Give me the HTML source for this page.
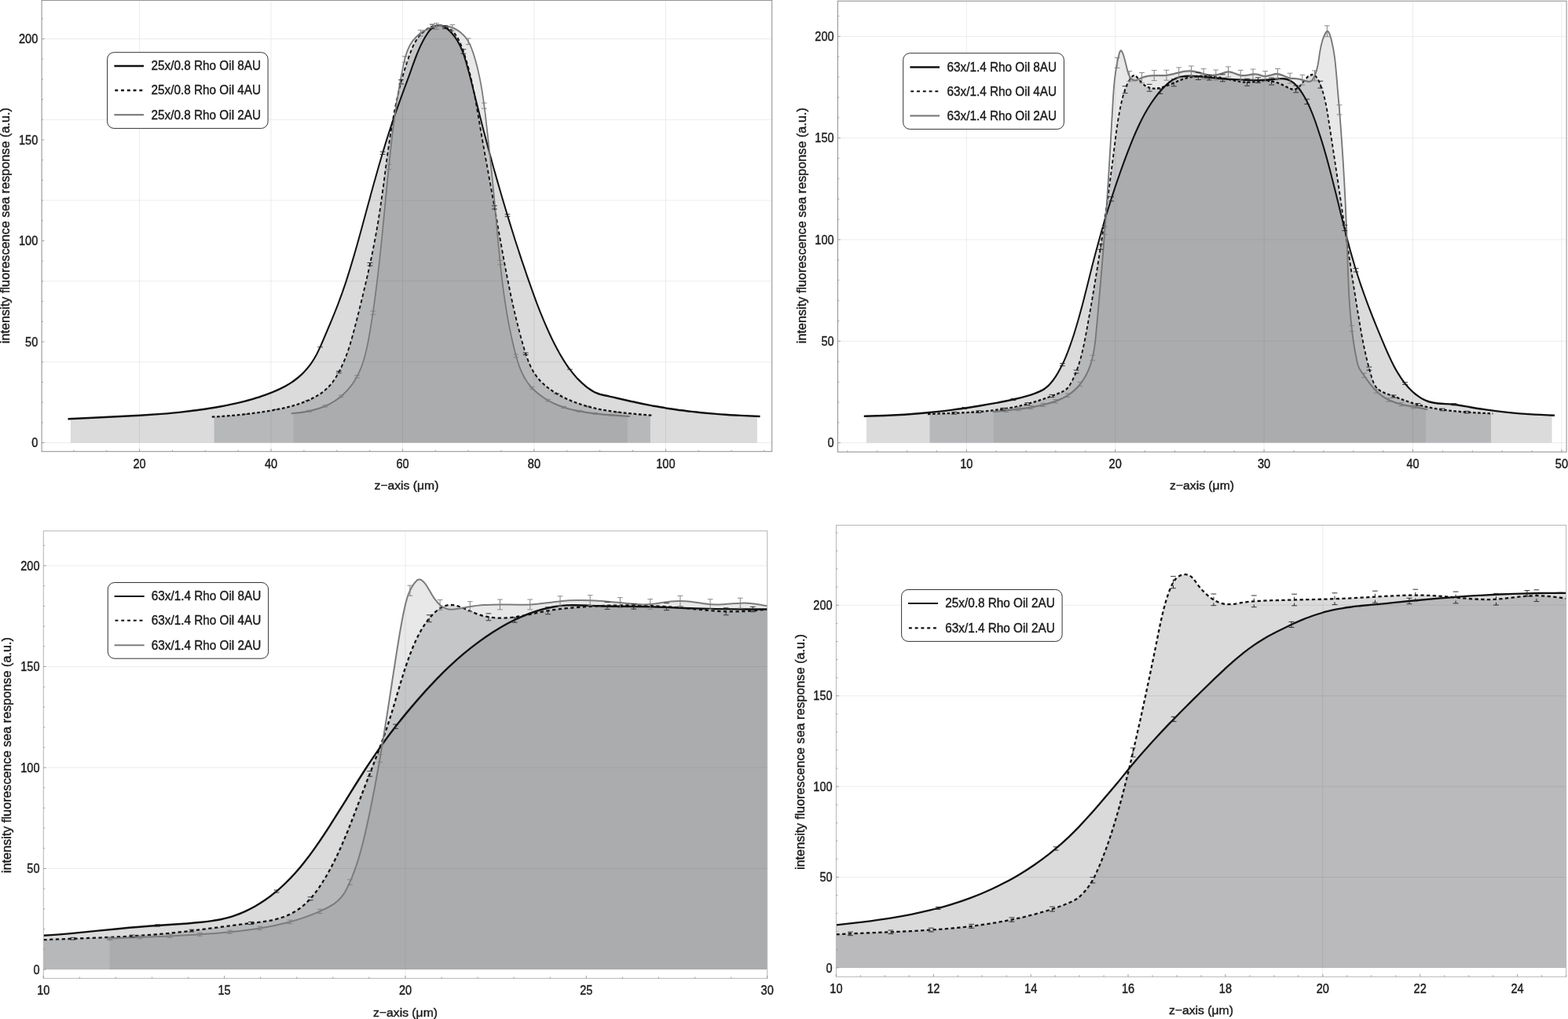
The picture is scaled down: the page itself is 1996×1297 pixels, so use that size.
<!DOCTYPE html>
<html lang="en"><head><meta charset="utf-8"><title>Fluorescence sea response</title>
<style>html,body{margin:0;padding:0;background:#fff;}body{width:1996px;height:1297px;overflow:hidden;}svg{display:block;font-family:'Liberation Sans', 'DejaVu Sans', sans-serif;}</style>
</head><body>
<svg width="1996" height="1297" viewBox="0 0 1996 1297">
<rect width="1996" height="1297" fill="#fff"/>
<g id="panel1">
<clipPath id="c1"><rect x="53.1" y="0.4" width="929.6" height="574.3"/></clipPath>
<path d="M177.6 0.4V574.7M345 0.4V574.7M512.5 0.4V574.7M679.9 0.4V574.7M847.4 0.4V574.7M53.1 563.5H982.7M53.1 460.7H982.7M53.1 357.9H982.7M53.1 255.1H982.7M53.1 152.3H982.7M53.1 49.5H982.7" stroke="#e4e4e4" stroke-width="0.7" fill="none"/>
<g clip-path="url(#c1)">
<path d="M90 563.5L90 533.1C99.4 532.6 108.7 532.1 118 531.7C138.1 530.8 158 529.9 177.8 528.8C187 528.2 196 527.6 205.1 526.9C213.4 526.2 221.7 525.5 230 524.6C238.3 523.7 246.6 522.7 255 521.5C263.4 520.4 271.8 519 280.3 517.5C288.8 515.9 297.4 514.2 305.8 512.1C313.4 510.3 320.9 508.3 328.3 505.9C334.7 503.9 340.9 501.7 347 499.2C352.4 497 357.6 494.6 362.6 491.9C365.4 490.4 368.1 488.8 370.7 487C372.8 485.6 374.8 484.2 376.8 482.6C379.1 480.8 381.4 478.9 383.5 476.9C385.9 474.7 388.2 472.3 390.3 469.8C392.7 467 394.9 464.2 397 461.2C399.3 457.8 401.4 454.2 403.3 450.6C404.9 447.4 406.4 444.2 407.9 441C409.5 437.4 411 433.8 412.6 430.1C414.2 426.3 415.8 422.5 417.4 418.7C418.4 416.4 419.4 414.1 420.3 411.9C423.7 403.8 427 395.6 430.2 387.5C433.8 377.9 437.2 368.3 440.4 358.7C443.8 348.4 447 337.9 450 327.5C453.4 315.9 456.6 304.3 459.8 292.6C462.3 283.5 464.8 274.3 467.3 265.1C468.5 260.8 469.6 256.6 470.8 252.3C473.6 242.1 476.4 231.9 479.2 221.7C481.9 212.4 484.6 203.1 487.3 193.9C489.7 185.9 492.2 177.9 494.7 170C496.9 163.3 499.1 156.6 501.4 150C503.5 143.7 505.7 137.5 508 131.3C510.5 124.2 513.1 117.1 515.7 110.1C518 103.9 520.2 97.7 522.4 91.5C524.8 84.8 527.1 78.3 529.7 71.6C532 65.8 534.5 59.8 537.5 53.9C539.5 49.9 541.8 45.8 544.3 42.2C545.9 39.9 547.6 37.8 549.5 36.1C550.9 34.9 552.4 33.9 554.1 33.3C555.7 32.7 557.3 32.4 559 32.4C561 32.4 562.9 32.9 564.8 33.8C566.5 34.6 568.1 35.6 569.7 36.9C571.6 38.4 573.4 40.2 575.1 42.1C577.8 45.2 580.1 48.4 582.1 51.7C584.5 55.6 586.5 59.6 588.1 63.8C590.2 69 591.9 74.3 593.5 79.8C594.4 83 595.3 86.1 596.2 89.4C597.7 94.8 599.1 100.3 600.5 105.8C602.1 112.2 603.6 118.6 605.2 125C606.9 131.8 608.6 138.6 610.3 145.3C612 152.1 613.7 158.8 615.5 165.5C617.1 171.8 618.8 178 620.4 184.3C622.1 190.5 623.8 196.8 625.5 203C627.1 208.8 628.7 214.7 630.3 220.5C631.9 226.3 633.6 232.1 635.2 237.9C636.9 243.6 638.5 249.3 640.2 254.9C642.3 262 644.4 269 646.5 276C648.7 283.1 650.9 290.1 653.1 297.1C655.1 303.4 657.1 309.7 659.1 315.9C661.2 322.2 663.2 328.5 665.3 334.8C667.3 340.7 669.3 346.6 671.4 352.6C673.3 358.1 675.3 363.7 677.2 369.3C679.2 374.8 681.3 380.4 683.3 385.9C685.2 390.7 687.1 395.5 689 400.3C691.1 405.5 693.2 410.6 695.4 415.6C697.8 421.1 700.3 426.5 702.9 431.8C705.3 436.8 707.8 441.7 710.5 446.5C711.1 447.7 711.8 448.9 712.5 450.2C714.1 453 715.8 455.9 717.6 458.7C719.6 461.9 721.6 465 723.8 468.1C724.3 468.7 724.8 469.3 725.3 470C727.8 473.3 730.4 476.6 733.3 479.8C734.5 481.2 735.7 482.5 737 483.8C738.8 485.6 740.6 487.4 742.5 489.1C744.4 490.8 746.4 492.4 748.4 493.8C749.1 494.4 749.9 494.9 750.6 495.4C752.2 496.5 753.8 497.5 755.5 498.4C756.3 498.8 757.2 499.3 758.1 499.7C758.7 500 759.4 500.3 760.1 500.5C761.7 501.2 763.3 501.7 764.9 502.1C765.1 502.2 765.3 502.2 765.5 502.3C768.7 503.1 771.9 503.7 775.1 504.4C776.7 504.7 778.2 505.1 779.8 505.4C782.3 506 784.9 506.6 787.6 507.2C793.3 508.5 799.2 509.9 805 511.2C805.1 511.3 805.2 511.3 805.4 511.3C813.6 513.2 821.9 514.9 830.1 516.4C830.2 516.4 830.4 516.4 830.5 516.5C836.1 517.5 841.8 518.5 847.5 519.4C847.6 519.4 847.8 519.4 848 519.5C854.6 520.5 861.2 521.5 867.8 522.3C872 522.9 876.2 523.4 880.5 523.9C884.5 524.3 888.6 524.8 892.7 525.2C901 526 909.3 526.7 917.6 527.4C921.7 527.7 925.8 527.9 929.9 528.2C934.1 528.4 938.4 528.7 942.7 528.9C949.7 529.3 956.8 529.6 963.9 529.8L963.9 563.5Z" fill="#000" fill-opacity="0.142"/>
<path d="M272.6 563.5L272.6 530.4C279.2 530.1 285.9 529.7 292.7 529.1C300.1 528.5 307.5 527.8 314.9 526.9C323.4 525.9 331.9 524.7 340.3 523.3C346.6 522.3 352.9 521.2 359.1 519.9C365.4 518.5 371.6 516.9 377.7 515C382.4 513.5 387 511.8 391.5 509.9C395.3 508.2 399.1 506.4 402.7 504.3C406.1 502.3 409.4 500.1 412.5 497.7C415.1 495.5 417.6 493.2 419.9 490.7C422.3 488 424.5 485 426.5 481.9C428.4 479 430.1 475.9 431.7 472.9C433.6 469.3 435.3 465.8 436.9 462.2C438.7 458.1 440.3 453.9 441.8 449.8C443.6 444.9 445.2 439.9 446.6 435C447.9 430.9 449 426.8 450.1 422.6C451 419.1 451.9 415.7 452.8 412.2C454.8 404.3 456.9 396.3 458.8 388.3C461.1 379.1 463.3 369.9 465.5 360.7C467.3 352.7 469.1 344.7 470.9 336.6C472.8 327.8 474.6 318.9 476.3 310C478.2 300.3 480 290.7 481.5 281C483.1 271.2 484.6 261.4 486 251.6C486.8 245.7 487.6 239.7 488.4 233.8C489.4 225.9 490.4 218 491.5 210.1C492.5 202.2 493.6 194.3 494.7 186.5C495.6 180.2 496.5 174 497.5 167.8C498.6 161.1 499.7 154.5 500.9 147.8C502 142 503.2 136.1 504.4 130.3C505.6 124.4 507 118.6 508.4 112.8C509.5 108.6 510.6 104.4 511.7 100.2C512.6 97 513.5 93.7 514.5 90.5C516.3 84.6 518.2 78.7 520.3 72.8C522 67.9 523.8 63 526 58.4C527.8 54.5 529.9 50.9 532.3 47.6C534.5 44.7 537 42 539.9 39.7C542.3 37.7 545.1 36 548 34.7C550.4 33.7 552.9 33 555.5 32.7C557.9 32.4 560.3 32.5 562.6 32.9C565 33.4 567.4 34.2 569.6 35.3C571.8 36.4 573.9 37.9 575.8 39.6C578.6 42.1 580.8 45.1 582.7 48.5C585.4 53.1 587.4 58.3 589.2 63.5C591.3 69.5 593.2 75.5 594.9 81.5C595.7 84.3 596.5 87.1 597.2 89.9C598.5 94.9 599.7 99.9 600.8 105C602.1 110.8 603.2 116.6 604.4 122.5C605.6 129.1 606.8 135.8 607.9 142.5C609.1 149.1 610.2 155.8 611.3 162.5C612.5 169.6 613.8 176.7 615 183.8C616.3 190.9 617.6 198 618.9 205.2C620.2 212.7 621.6 220.2 623 227.7C624.5 235.8 625.9 243.9 627.4 251.9C628 255.5 628.7 259.1 629.3 262.7C630.7 270.3 632 277.8 633.3 285.3C634.5 292.4 635.8 299.4 637 306.5C638.3 313.6 639.6 320.7 640.9 327.7C642.1 334.4 643.3 341.1 644.6 347.7C645.8 354 647 360.2 648.3 366.4C649.5 372.3 650.7 378.1 652 383.9C653.2 389.3 654.4 394.7 655.7 400C656.7 404.2 657.7 408.3 658.7 412.5C659.8 417 661 421.6 662.3 426.2C663.4 430.4 664.5 434.6 665.7 438.7C666.8 442.6 667.9 446.4 669.2 450.2C670.2 453.4 671.3 456.6 672.6 459.7C674 463.3 675.6 466.9 677.4 470.3C678.4 472.1 679.5 474 680.7 475.8C681.7 477.3 682.7 478.7 683.8 480.2C686 483 688.5 485.7 691.2 488.2C693.9 490.7 696.8 493.1 699.9 495.3C702.7 497.3 705.6 499.2 708.6 501C708.6 501 708.7 501 708.7 501.1C712.1 503.1 715.6 504.9 719.1 506.6C723.3 508.6 727.5 510.4 731.8 512C736.6 513.8 741.6 515.4 746.5 516.8C747 517 747.5 517.1 748 517.2C752.9 518.6 757.8 519.7 762.8 520.8C769 522 775.2 523 781.5 523.9C783.1 524.1 784.7 524.4 786.3 524.6C791 525.2 795.7 525.7 800.4 526.1C805.5 526.6 810.5 527.1 815.5 527.5C819.7 527.9 823.8 528.2 827.9 528.6L827.9 563.5Z" fill="#000612" fill-opacity="0.16"/>
<path d="M373.6 563.5L373.6 526C380.5 525.5 387.5 524.6 394.3 523.1C401.2 521.6 407.9 519.6 414.3 516.8C418.1 515.1 421.8 513.1 425.4 510.9C428.5 508.9 431.4 506.7 434.3 504.3C437.1 502 439.7 499.5 442.1 496.8C444.5 494.1 446.8 491.4 448.8 488.5C451 485.4 452.9 482.2 454.7 478.8C456.5 475.4 458.1 471.8 459.6 468.1C461.3 463.7 462.8 459.1 464.1 454.5C465.7 448.7 467 442.8 468.2 436.8C469.1 432.2 470 427.4 470.8 422.7C471.4 419.2 472 415.6 472.5 412C473.4 406.4 474.3 400.8 475.1 395.2C476.4 386.4 477.6 377.6 478.7 368.7C480.1 358.3 481.3 347.8 482.5 337.4C483.6 326.9 484.7 316.5 485.8 306.1C486.6 297.8 487.4 289.4 488.2 281.1C489.2 271.4 490.1 261.7 491 251.9C491.7 245.1 492.3 238.3 493 231.6C493.7 224 494.5 216.5 495.3 209C496.1 201.5 496.9 194.1 497.7 186.6C498.7 177.9 499.7 169.2 500.8 160.5C501.7 153.8 502.6 147.1 503.5 140.5C504.5 133.8 505.5 127 506.6 120.3C507.5 114.8 508.4 109.3 509.4 103.8C510.4 98.4 511.4 92.9 512.5 87.4C513.6 81.8 514.8 76.2 516.4 70.9C517.6 67.1 518.9 63.4 520.7 59.9C521.9 57.2 523.4 54.7 525.2 52.3C526.9 50 528.9 47.8 531 45.8C533 44 535.1 42.3 537.3 40.8C539.8 39.2 542.5 37.7 545.3 36.5C547.8 35.5 550.4 34.6 553 34C555 33.5 557.1 33.2 559.2 33C561.6 32.8 564.1 32.8 566.5 33.1C569.1 33.3 571.6 33.8 574.1 34.6C576.7 35.5 579.2 36.6 581.5 38C583.6 39.2 585.7 40.7 587.5 42.3C589.5 43.9 591.2 45.8 592.8 47.8C594.8 50.3 596.4 53 597.8 55.8C599.9 60 601.4 64.5 602.9 69C604.6 74.4 606.1 79.9 607.5 85.4C607.9 87 608.3 88.5 608.7 90.1C609.9 95.5 611 100.8 612 106.2C613.1 112 614.1 117.8 614.9 123.7C615.7 129.1 616.4 134.5 617.1 139.9C617.9 146.5 618.7 153.2 619.4 159.9C620.2 166.5 620.9 173.2 621.7 179.9C622.4 186.6 623.1 193.3 623.9 200C624.6 207.1 625.4 214.3 626.1 221.4C627.1 231.6 628.1 241.8 629.1 252C629.4 255.5 629.8 259.1 630.1 262.6C630.8 270.2 631.4 277.7 632.1 285.3C632.8 293.2 633.5 301.2 634.3 309.1C635 316.9 635.7 324.6 636.5 332.3C637.2 339.1 637.9 346 638.7 352.9C639.5 359.1 640.3 365.4 641.1 371.6C641.8 377 642.6 382.4 643.5 387.8C644.1 391.9 644.7 395.9 645.4 400C646.4 405.4 647.3 410.8 648.4 416.1C649.5 421.6 650.6 427 651.8 432.4C652.9 437 654 441.5 655.1 446.1C655.8 448.7 656.5 451.3 657.2 453.8C658.2 457.6 659.4 461.3 660.7 465C661.7 468 662.9 470.9 664.1 473.8C665.5 476.8 667 479.7 668.7 482.5C670.9 486.3 673.5 489.8 676.5 493.1C677.1 493.8 677.8 494.5 678.5 495.2C681.1 497.8 683.9 500.2 686.8 502.4C690.3 505.1 693.8 507.4 697.5 509.6C698 509.9 698.5 510.1 699 510.4C701.5 511.8 704.1 513.1 706.8 514.3C710.2 515.8 713.6 517.1 717.1 518.3C717.3 518.3 717.4 518.4 717.6 518.4C720.9 519.5 724.2 520.4 727.6 521.3C730.4 521.9 733.2 522.6 736.1 523.1C736.6 523.2 737.1 523.3 737.7 523.4C743.4 524.5 749.2 525.3 755.1 526.1C755.6 526.1 756.1 526.2 756.7 526.2C763 527 769.3 527.6 775.6 528.1C783.5 528.7 791.3 529.2 798.9 529.8L798.9 563.5Z" fill="#6e6f72" fill-opacity="0.16"/>
<g transform="scale(0.8 1)">
<path d="M108.1 533.3C121.3 532.7 134.4 532.2 147.5 531.7C172.6 530.8 197.5 529.9 222.3 528.8C233.7 528.2 245.1 527.6 256.4 526.9C266.8 526.2 277.1 525.5 287.5 524.6C297.9 523.7 308.3 522.7 318.8 521.5C329.3 520.4 339.8 519 350.3 517.5C361 515.9 371.7 514.2 382.3 512.1C391.8 510.3 401.2 508.3 410.3 505.9C418.3 503.9 426.2 501.7 433.7 499.2C440.4 497 447 494.6 453.2 491.9C456.7 490.4 460.1 488.8 463.4 487C466 485.6 468.5 484.2 471 482.6C473.9 480.8 476.7 478.9 479.4 476.9C482.4 474.7 485.2 472.3 487.9 469.8C490.9 467 493.7 464.2 496.2 461.2C499.1 457.8 501.7 454.2 504.1 450.6C506.1 447.4 508 444.2 509.8 441C511.9 437.4 513.8 433.8 515.7 430.1C517.7 426.3 519.8 422.5 521.8 418.7C523 416.4 524.2 414.1 525.4 411.9C529.6 403.8 533.8 395.6 537.7 387.5C542.3 377.9 546.5 368.3 550.5 358.7C554.7 348.4 558.7 337.9 562.5 327.5C566.8 315.9 570.8 304.3 574.8 292.6C577.9 283.5 581 274.3 584.1 265.1C585.6 260.8 587 256.6 588.5 252.3C591.9 242.1 595.5 231.9 599.1 221.7C602.3 212.4 605.7 203.1 609.2 193.9C612.1 185.9 615.2 177.9 618.4 170C621.1 163.3 623.8 156.6 626.7 150C629.4 143.7 632.2 137.5 635 131.3C638.1 124.2 641.4 117.1 644.6 110.1C647.5 103.9 650.3 97.7 653.1 91.5C656 84.8 658.9 78.3 662.1 71.6C665 65.8 668.1 59.8 671.9 53.9C674.4 49.9 677.2 45.8 680.4 42.2C682.4 39.9 684.5 37.8 686.9 36.1C688.7 34.9 690.6 33.9 692.7 33.3C694.6 32.7 696.7 32.4 698.7 32.4C701.2 32.4 703.7 32.9 706 33.8C708.1 34.6 710.2 35.6 712.1 36.9C714.5 38.4 716.8 40.2 718.8 42.1C722.3 45.2 725.2 48.4 727.7 51.7C730.7 55.6 733.1 59.6 735.2 63.8C737.8 69 739.9 74.3 741.9 79.8C743 83 744.1 86.1 745.2 89.4C747.1 94.8 748.8 100.3 750.6 105.8C752.6 112.2 754.6 118.6 756.5 125C758.6 131.8 760.8 138.6 762.9 145.3C765 152.1 767.2 158.8 769.3 165.5C771.4 171.8 773.4 178 775.5 184.3C777.6 190.5 779.7 196.8 781.8 203C783.8 208.8 785.8 214.7 787.9 220.5C789.9 226.3 792 232.1 794.1 237.9C796.1 243.6 798.2 249.3 800.3 254.9C802.9 262 805.5 269 808.2 276C810.9 283.1 813.6 290.1 816.4 297.1C818.8 303.4 821.3 309.7 823.9 315.9C826.5 322.2 829 328.5 831.7 334.8C834.2 340.7 836.7 346.6 839.2 352.6C841.6 358.1 844.1 363.7 846.6 369.3C849 374.8 851.6 380.4 854.2 385.9C856.5 390.7 858.8 395.5 861.2 400.3C863.8 405.5 866.5 410.6 869.3 415.6C872.3 421.1 875.4 426.5 878.6 431.8C881.7 436.8 884.8 441.7 888.1 446.5C888.9 447.7 889.8 448.9 890.6 450.2C892.7 453 894.8 455.9 897 458.7C899.5 461.9 902.1 465 904.8 468.1C905.4 468.7 906 469.3 906.6 470C909.7 473.3 913 476.6 916.6 479.8C918.1 481.2 919.7 482.5 921.3 483.8C923.5 485.6 925.8 487.4 928.2 489.1C930.5 490.8 932.9 492.4 935.4 493.8C936.4 494.4 937.3 494.9 938.3 495.4C940.3 496.5 942.3 497.5 944.3 498.4C945.4 498.8 946.5 499.3 947.6 499.7C948.4 500 949.3 500.3 950.2 500.5C952.1 501.2 954.1 501.7 956.1 502.1C956.4 502.2 956.6 502.2 956.9 502.3C960.8 503.1 964.8 503.7 968.9 504.4C970.8 504.7 972.7 505.1 974.7 505.4C977.9 506 981.2 506.6 984.5 507.2C991.7 508.5 999 509.9 1006.2 511.2C1006.4 511.3 1006.6 511.3 1006.7 511.3C1017 513.2 1027.3 514.9 1037.7 516.4C1037.8 516.4 1037.9 516.4 1038.1 516.5C1045.2 517.5 1052.2 518.5 1059.3 519.4C1059.6 519.4 1059.8 519.4 1060 519.5C1068.3 520.5 1076.5 521.5 1084.8 522.3C1090 522.9 1095.3 523.4 1100.6 523.9C1105.7 524.3 1110.8 524.8 1115.9 525.2C1126.2 526 1136.6 526.7 1147 527.4C1152.1 527.7 1157.2 527.9 1162.3 528.2C1167.7 528.4 1173 528.7 1178.4 528.9C1188.7 529.3 1199 529.7 1209.4 530" fill="none" stroke="#111" stroke-width="2.45" stroke-linejoin="round"/>
<path d="M337.2 530.6C346.6 530.3 356.2 529.8 365.9 529.1C375.1 528.5 384.4 527.8 393.7 526.9C404.2 525.9 414.8 524.7 425.3 523.3C433.2 522.3 441.1 521.2 448.9 519.9C456.8 518.5 464.5 516.9 472.2 515C478 513.5 483.7 511.8 489.4 509.9C494.2 508.2 498.9 506.4 503.4 504.3C507.7 502.3 511.7 500.1 515.6 497.7C518.9 495.5 522 493.2 524.8 490.7C527.9 488 530.6 485 533.1 481.9C535.5 479 537.6 475.9 539.6 472.9C542 469.3 544.1 465.8 546.1 462.2C548.4 458.1 550.4 453.9 552.3 449.8C554.5 444.9 556.5 439.9 558.3 435C559.8 430.9 561.2 426.8 562.6 422.6C563.8 419.1 564.9 415.7 566 412.2C568.6 404.3 571.1 396.3 573.5 388.3C576.4 379.1 579.1 369.9 581.8 360.7C584.2 352.7 586.4 344.7 588.6 336.6C591 327.8 593.3 318.9 595.4 310C597.8 300.3 599.9 290.7 601.9 281C603.9 271.2 605.7 261.4 607.4 251.6C608.5 245.7 609.5 239.7 610.5 233.8C611.8 225.9 613 218 614.3 210.1C615.6 202.2 617 194.3 618.4 186.5C619.5 180.2 620.7 174 621.9 167.8C623.2 161.1 624.6 154.5 626.2 147.8C627.5 142 628.9 136.1 630.5 130.3C632.1 124.4 633.7 118.6 635.5 112.8C636.8 108.6 638.2 104.4 639.6 100.2C640.8 97 641.9 93.7 643.2 90.5C645.4 84.6 647.8 78.7 650.4 72.8C652.5 67.9 654.8 63 657.5 58.4C659.8 54.5 662.4 50.9 665.4 47.6C668.2 44.7 671.3 42 674.9 39.7C677.9 37.7 681.4 36 685 34.7C688 33.7 691.2 33 694.3 32.7C697.3 32.4 700.3 32.5 703.3 32.9C706.3 33.4 709.2 34.2 711.9 35.3C714.8 36.4 717.4 37.9 719.8 39.6C723.2 42.1 726 45.1 728.4 48.5C731.7 53.1 734.2 58.3 736.5 63.5C739.1 69.5 741.5 75.5 743.6 81.5C744.6 84.3 745.6 87.1 746.5 89.9C748.1 94.9 749.6 99.9 751 105C752.6 110.8 754.1 116.6 755.4 122.5C757 129.1 758.5 135.8 759.9 142.5C761.4 149.1 762.7 155.8 764.2 162.5C765.7 169.6 767.2 176.7 768.8 183.8C770.4 190.9 772 198 773.6 205.2C775.3 212.7 777 220.2 778.7 227.7C780.6 235.8 782.4 243.9 784.2 251.9C785 255.5 785.9 259.1 786.7 262.7C788.3 270.3 790 277.8 791.6 285.3C793.2 292.4 794.7 299.4 796.3 306.5C797.9 313.6 799.5 320.7 801.1 327.7C802.6 334.4 804.2 341.1 805.8 347.7C807.3 354 808.8 360.2 810.4 366.4C811.9 372.3 813.4 378.1 815 383.9C816.5 389.3 818 394.7 819.6 400C820.8 404.2 822.1 408.3 823.4 412.5C824.8 417 826.3 421.6 827.8 426.2C829.2 430.4 830.6 434.6 832.1 438.7C833.5 442.6 834.9 446.4 836.4 450.2C837.8 453.4 839.2 456.6 840.7 459.7C842.5 463.3 844.5 466.9 846.8 470.3C848 472.1 849.4 474 850.9 475.8C852.1 477.3 853.4 478.7 854.8 480.2C857.5 483 860.6 485.7 864 488.2C867.4 490.7 871 493.1 874.8 495.3C878.3 497.3 882 499.2 885.7 501C885.8 501 885.9 501 885.9 501.1C890.1 503.1 894.5 504.9 898.9 506.6C904.1 508.6 909.4 510.4 914.7 512C920.8 513.8 926.9 515.4 933.2 516.8C933.8 517 934.3 517.1 934.9 517.2C941.1 518.6 947.2 519.7 953.5 520.8C961.2 522 969 523 976.9 523.9C978.9 524.1 980.9 524.4 982.9 524.6C988.8 525.2 994.7 525.7 1000.5 526.1C1006.8 526.6 1013.1 527.1 1019.4 527.5C1025.7 527.9 1031.9 528.3 1038.1 528.8" fill="none" stroke="#111" stroke-width="2.3" stroke-dasharray="4.6 3.4" stroke-linejoin="round"/>
<path d="M463.5 526.2C473.3 525.8 483.2 524.8 492.9 523.1C501.5 521.6 509.9 519.6 517.8 516.8C522.6 515.1 527.3 513.1 531.7 510.9C535.6 508.9 539.3 506.7 542.8 504.3C546.3 502 549.6 499.5 552.7 496.8C555.7 494.1 558.5 491.4 561 488.5C563.7 485.4 566.2 482.2 568.3 478.8C570.6 475.4 572.7 471.8 574.5 468.1C576.6 463.7 578.5 459.1 580.1 454.5C582.1 448.7 583.8 442.8 585.3 436.8C586.4 432.2 587.5 427.4 588.5 422.7C589.2 419.2 589.9 415.6 590.7 412C591.8 406.4 592.8 400.8 593.9 395.2C595.5 386.4 597 377.6 598.4 368.7C600.1 358.3 601.6 347.8 603.1 337.4C604.5 326.9 605.9 316.5 607.2 306.1C608.3 297.8 609.3 289.4 610.3 281.1C611.5 271.4 612.6 261.7 613.8 251.9C614.6 245.1 615.4 238.3 616.3 231.6C617.2 224 618.1 216.5 619.1 209C620.1 201.5 621.1 194.1 622.1 186.6C623.3 177.9 624.6 169.2 626 160.5C627.1 153.8 628.2 147.1 629.4 140.5C630.6 133.8 631.9 127 633.2 120.3C634.3 114.8 635.5 109.3 636.8 103.8C638 98.4 639.3 92.9 640.7 87.4C642.1 81.8 643.5 76.2 645.6 70.9C647 67.1 648.7 63.4 650.8 59.9C652.4 57.2 654.3 54.7 656.5 52.3C658.6 50 661.1 47.8 663.8 45.8C666.2 44 668.9 42.3 671.7 40.8C674.8 39.2 678.1 37.7 681.6 36.5C684.7 35.5 688 34.6 691.2 34C693.8 33.5 696.4 33.2 698.9 33C702 32.8 705.1 32.8 708.2 33.1C711.4 33.3 714.5 33.8 717.6 34.6C720.8 35.5 723.9 36.6 726.9 38C729.6 39.2 732.1 40.7 734.4 42.3C736.8 43.9 739 45.8 741 47.8C743.5 50.3 745.5 53 747.2 55.8C749.8 60 751.8 64.5 753.6 69C755.7 74.4 757.7 79.9 759.4 85.4C759.9 87 760.4 88.5 760.8 90.1C762.4 95.5 763.8 100.8 765 106.2C766.4 112 767.6 117.8 768.6 123.7C769.6 129.1 770.5 134.5 771.4 139.9C772.4 146.5 773.4 153.2 774.3 159.9C775.2 166.5 776.2 173.2 777.1 179.9C778 186.6 778.9 193.3 779.8 200C780.8 207.1 781.7 214.3 782.6 221.4C783.9 231.6 785.2 241.8 786.4 252C786.8 255.5 787.2 259.1 787.6 262.6C788.5 270.2 789.3 277.7 790.1 285.3C791 293.2 791.9 301.2 792.8 309.1C793.7 316.9 794.6 324.6 795.6 332.3C796.5 339.1 797.4 346 798.4 352.9C799.3 359.1 800.3 365.4 801.4 371.6C802.3 377 803.3 382.4 804.3 387.8C805.1 391.9 805.9 395.9 806.8 400C807.9 405.4 809.2 410.8 810.5 416.1C811.8 421.6 813.3 427 814.8 432.4C816.1 437 817.5 441.5 818.9 446.1C819.7 448.7 820.6 451.3 821.5 453.8C822.8 457.6 824.2 461.3 825.8 465C827.1 468 828.6 470.9 830.2 473.8C831.9 476.8 833.7 479.7 835.9 482.5C838.7 486.3 841.9 489.8 845.6 493.1C846.4 493.8 847.3 494.5 848.2 495.2C851.4 497.8 854.9 500.2 858.5 502.4C862.8 505.1 867.3 507.4 871.9 509.6C872.5 509.9 873.1 510.1 873.7 510.4C876.9 511.8 880.2 513.1 883.5 514.3C887.7 515.8 892 517.1 896.4 518.3C896.6 518.3 896.8 518.4 897 518.4C901.1 519.5 905.3 520.4 909.5 521.3C913 521.9 916.6 522.6 920.1 523.1C920.8 523.2 921.4 523.3 922.1 523.4C929.2 524.5 936.5 525.3 943.8 526.1C944.5 526.1 945.2 526.2 945.8 526.2C953.7 527 961.6 527.6 969.5 528.1C979.9 528.7 990.2 529.3 1000.3 529.9C1000.9 529.9 1001.5 530 1002.1 530" fill="none" stroke="#787878" stroke-width="2.1" stroke-linejoin="round"/>
</g>
<path d="M165.8 529.3H172.6M245.2 522.4H252M324.7 506H331.5M404.2 441.6H411M722.1 470.3H728.9M801.6 511.2H808.4M881 524.3H887.8" fill="none" stroke="#222" stroke-width="1.6" stroke-opacity="0.55"/>
<path d="M483.7 193.1H490.5M483.7 196.4H490.5M563.1 32.7H569.9M563.1 36.6H569.9M642.6 272.8H649.4M642.6 275.7H649.4" fill="none" stroke="#222" stroke-width="0.9"/>
<path d="M487.1 193.1V196.4M566.5 32.7V36.6M646 272.8V275.7" fill="none" stroke="#222" stroke-width="1"/>
<path d="M308.9 527.2H315.7M348.6 521.3H355.4M388.2 509.8H395M705.4 501.1H712.2M745.1 517.4H751.9M784.7 524.8H791.5" fill="none" stroke="#222" stroke-width="1.6" stroke-opacity="0.55"/>
<path d="M427.9 472.5H434.7M427.9 474.8H434.7M467.5 334.5H474.3M467.5 338.1H474.3M507.2 101.7H514M507.2 106.9H514M546.9 31.1H553.6M546.9 36.6H553.6M586.5 62.8H593.3M586.5 68.2H593.3M626.1 261.9H632.9M626.1 266.1H632.9M665.8 449.1H672.6M665.8 451.6H672.6" fill="none" stroke="#222" stroke-width="0.9"/>
<path d="M431.3 472.5V474.8M470.9 334.5V338.1M510.6 101.7V106.9M550.2 31.1V36.6M589.9 62.8V68.2M629.5 261.9V266.1M669.2 449.1V451.6" fill="none" stroke="#222" stroke-width="1" stroke-dasharray="4.6 3.4" stroke-dashoffset="4"/>
<path d="M390.3 522.2H397.1M390.3 524.3H397.1M410.5 515.8H417.3M410.5 518.1H417.3M430.8 503.1H437.6M430.8 505.7H437.6M451 477.8H457.8M451 480.9H457.8M471.3 396H478.1M471.3 400.3H478.1M491.5 209.4H498.3M491.5 215.7H498.3M511.8 71.8H518.6M511.8 79.3H518.6M532 38.3H538.8M532 46H538.8M552.3 29.6H559.1M552.3 37.4H559.1M572.5 31.4H579.3M572.5 39.2H579.3M592.8 48.9H599.6M592.8 56.6H599.6M613 131.1H619.8M613 138.1H619.8M633.3 331.5H640.1M633.3 336.7H640.1M653.5 451.1H660.3M653.5 454.7H660.3M673.8 492.4H680.6M673.8 495.3H680.6M694 508.3H700.8M694 510.8H700.8M714.3 517.3H721.1M714.3 519.6H721.1M734.5 522.4H741.3M734.5 524.5H741.3M754.8 525.4H761.6M754.8 527.5H761.6M775 527.3H781.8M775 529.3H781.8" fill="none" stroke="#808080" stroke-width="0.9"/>
<path d="M393.7 522.2V524.3M413.9 515.8V518.1M434.2 503.1V505.7M454.4 477.8V480.9M474.7 396V400.3M494.9 209.4V215.7M515.2 71.8V79.3M535.4 38.3V46M555.7 29.6V37.4M575.9 31.4V39.2M596.2 48.9V56.6M616.4 131.1V138.1M636.7 331.5V336.7M656.9 451.1V454.7M677.2 492.4V495.3M697.4 508.3V510.8M717.7 517.3V519.6M737.9 522.4V524.5M758.2 525.4V527.5M778.4 527.3V529.3" fill="none" stroke="#808080" stroke-width="1"/>
</g>
<rect x="53.1" y="0.4" width="929.6" height="574.3" fill="none" stroke="#8c8c8c" stroke-width="1"/>
<path d="M93.9 574.7v-1.9M135.7 574.7v-1.9M177.6 574.7v-3.4M219.5 574.7v-1.9M261.3 574.7v-1.9M303.2 574.7v-1.9M345 574.7v-3.4M386.9 574.7v-1.9M428.8 574.7v-1.9M470.6 574.7v-1.9M512.5 574.7v-3.4M554.3 574.7v-1.9M596.2 574.7v-1.9M638.1 574.7v-1.9M679.9 574.7v-3.4M721.8 574.7v-1.9M763.6 574.7v-1.9M805.5 574.7v-1.9M847.4 574.7v-3.4M889.2 574.7v-1.9M931.1 574.7v-1.9M972.9 574.7v-1.9M53.1 563.5h3.4M53.1 537.8h1.9M53.1 512.1h1.9M53.1 486.4h1.9M53.1 460.7h1.9M53.1 435h3.4M53.1 409.3h1.9M53.1 383.6h1.9M53.1 357.9h1.9M53.1 332.2h1.9M53.1 306.5h3.4M53.1 280.8h1.9M53.1 255.1h1.9M53.1 229.4h1.9M53.1 203.7h1.9M53.1 178h3.4M53.1 152.3h1.9M53.1 126.6h1.9M53.1 100.9h1.9M53.1 75.2h1.9M53.1 49.5h3.4M53.1 23.8h1.9" stroke="#8a8a8a" stroke-width="0.8" fill="none"/>
<text x="177.6" y="595.6" font-size="15.6" text-anchor="middle" fill="#1a1a1a" stroke="#1a1a1a" stroke-width="0.4" textLength="16.2" lengthAdjust="spacingAndGlyphs">20</text>
<text x="345" y="595.6" font-size="15.6" text-anchor="middle" fill="#1a1a1a" stroke="#1a1a1a" stroke-width="0.4" textLength="16.2" lengthAdjust="spacingAndGlyphs">40</text>
<text x="512.5" y="595.6" font-size="15.6" text-anchor="middle" fill="#1a1a1a" stroke="#1a1a1a" stroke-width="0.4" textLength="16.2" lengthAdjust="spacingAndGlyphs">60</text>
<text x="679.9" y="595.6" font-size="15.6" text-anchor="middle" fill="#1a1a1a" stroke="#1a1a1a" stroke-width="0.4" textLength="16.2" lengthAdjust="spacingAndGlyphs">80</text>
<text x="847.4" y="595.6" font-size="15.6" text-anchor="middle" fill="#1a1a1a" stroke="#1a1a1a" stroke-width="0.4" textLength="24.3" lengthAdjust="spacingAndGlyphs">100</text>
<text x="48.3" y="569.1" font-size="15.6" text-anchor="end" fill="#1a1a1a" stroke="#1a1a1a" stroke-width="0.4" textLength="8.1" lengthAdjust="spacingAndGlyphs">0</text>
<text x="48.3" y="440.6" font-size="15.6" text-anchor="end" fill="#1a1a1a" stroke="#1a1a1a" stroke-width="0.4" textLength="16.2" lengthAdjust="spacingAndGlyphs">50</text>
<text x="48.3" y="312.1" font-size="15.6" text-anchor="end" fill="#1a1a1a" stroke="#1a1a1a" stroke-width="0.4" textLength="24.3" lengthAdjust="spacingAndGlyphs">100</text>
<text x="48.3" y="183.6" font-size="15.6" text-anchor="end" fill="#1a1a1a" stroke="#1a1a1a" stroke-width="0.4" textLength="24.3" lengthAdjust="spacingAndGlyphs">150</text>
<text x="48.3" y="55.1" font-size="15.6" text-anchor="end" fill="#1a1a1a" stroke="#1a1a1a" stroke-width="0.4" textLength="24.3" lengthAdjust="spacingAndGlyphs">200</text>
<text x="517.4" y="623" font-size="15.5" text-anchor="middle" fill="#1a1a1a" stroke="#1a1a1a" stroke-width="0.4" textLength="82" lengthAdjust="spacingAndGlyphs">z−axis (μm)</text>
<text x="12.4" y="287.2" font-size="16" text-anchor="middle" fill="#1a1a1a" stroke="#1a1a1a" stroke-width="0.4" textLength="300" lengthAdjust="spacingAndGlyphs" transform="rotate(-90 12.4 287.2)">intensity fluorescence sea response (a.u.)</text>
<rect x="136.6" y="66.7" width="204.5" height="96.7" rx="8.5" ry="8.5" fill="#fff" stroke="#1c1c1c" stroke-width="0.9"/>
<path d="M145.4 84H183" stroke="#111" stroke-width="2.4" fill="none"/>
<text x="192.5" y="89.4" font-size="15.8" text-anchor="start" fill="#1a1a1a" stroke="#1a1a1a" stroke-width="0.4" textLength="139.6" lengthAdjust="spacingAndGlyphs">25x/0.8 Rho Oil 8AU</text>
<path d="M146.3 115H183" stroke="#111" stroke-width="2.4" stroke-dasharray="3.9 3.87" fill="none"/>
<text x="192.5" y="120.4" font-size="15.8" text-anchor="start" fill="#1a1a1a" stroke="#1a1a1a" stroke-width="0.4" textLength="139.6" lengthAdjust="spacingAndGlyphs">25x/0.8 Rho Oil 4AU</text>
<path d="M145.4 146.1H183" stroke="#808080" stroke-width="2.1" fill="none"/>
<text x="192.5" y="151.5" font-size="15.8" text-anchor="start" fill="#1a1a1a" stroke="#1a1a1a" stroke-width="0.4" textLength="139.6" lengthAdjust="spacingAndGlyphs">25x/0.8 Rho Oil 2AU</text>
</g>
<g id="panel2">
<clipPath id="c2"><rect x="1066.4" y="1.3" width="927.7" height="573.9"/></clipPath>
<path d="M1230.3 1.3V575.2M1419.7 1.3V575.2M1609.1 1.3V575.2M1798.5 1.3V575.2M1987.9 1.3V575.2M1066.4 563.6H1994.1M1066.4 434.3H1994.1M1066.4 305H1994.1M1066.4 175.7H1994.1M1066.4 46.4H1994.1" stroke="#e4e4e4" stroke-width="0.7" fill="none"/>
<g clip-path="url(#c2)">
<path d="M1103 563.6L1103 529.7C1119.2 529.4 1135.1 528.8 1150.8 527.7C1162.5 526.9 1174 526 1185.5 524.8C1194.6 523.8 1203.6 522.8 1212.7 521.6C1217.3 521 1221.8 520.4 1226.4 519.7C1233.7 518.6 1241.1 517.5 1248.5 516.2C1255.5 515.1 1262.5 513.9 1269.5 512.6C1276.6 511.3 1283.7 509.9 1290.7 508.3C1295.9 507.1 1301.1 505.8 1306.1 504.4C1310.3 503.1 1314.4 501.8 1318.3 500.3C1320 499.7 1321.6 499.1 1323.1 498.4C1324.4 497.8 1325.6 497.2 1326.7 496.6C1328 495.9 1329.2 495.1 1330.4 494.3C1332.3 492.9 1334 491.4 1335.7 489.7C1337.6 487.8 1339.3 485.6 1341 483.4C1342.8 480.9 1344.6 478.2 1346.2 475.5C1348.6 471.4 1350.8 467.3 1352.7 463.2C1354.4 459.8 1355.9 456.3 1357.3 452.9C1359 448.7 1360.6 444.5 1362.1 440.2C1363.9 435.2 1365.6 430.2 1367.2 425.1C1368.9 419.7 1370.6 414.2 1372.1 408.7C1373.8 402.9 1375.5 396.9 1377 391C1378.2 386.8 1379.2 382.6 1380.3 378.3C1383.6 365.6 1386.7 352.8 1389.9 340.1C1392.7 329 1395.7 318 1398.7 306.9C1401.7 296 1404.8 285.2 1408 274.4C1410.3 267 1412.5 259.6 1414.9 252.3C1418.3 241.5 1421.9 230.8 1425.7 220.2C1429 210.9 1432.4 201.6 1435.9 192.4C1436.3 191.4 1436.7 190.4 1437.1 189.4C1438.8 184.9 1440.6 180.5 1442.4 176.1C1444.7 170.5 1447.1 165 1449.7 159.5C1452.2 154.4 1454.7 149.3 1457.5 144.4C1460 140 1462.6 135.6 1465.4 131.3C1468 127.5 1470.6 123.8 1473.5 120.2C1474.8 118.6 1476.1 117 1477.5 115.5C1479.6 113 1481.8 110.6 1484.2 108.4C1486.6 106.1 1489.1 104.1 1491.8 102.4C1493.7 101.2 1495.6 100.2 1497.6 99.4C1499.6 98.6 1501.7 98 1503.8 97.6C1507.9 96.8 1512.1 96.6 1516.5 96.7C1521.8 96.8 1527.1 97.4 1532.4 98C1537.7 98.5 1542.9 99 1548 99.4C1549 99.5 1550 99.6 1551 99.7C1555.3 100 1559.5 100.4 1563.7 100.7C1566.3 100.8 1568.9 101 1571.4 101.1C1574.8 101.3 1578.2 101.5 1581.7 101.7C1585.1 101.8 1588.6 102 1592.1 102C1595.6 102.1 1599.1 102.2 1602.6 102.1C1607.9 102 1613.3 101.8 1618.7 101.2C1621.9 100.9 1625.1 100.4 1628.2 100.2C1630.3 100.1 1632.3 100.1 1634.3 100.3C1636.3 100.5 1638.2 100.9 1640 101.6C1642.1 102.4 1644 103.5 1645.8 104.8C1647.6 106.2 1649.2 107.7 1650.8 109.5C1653.2 112.1 1655.4 115.1 1657.4 118.2C1659.9 121.9 1662 125.7 1664 129.6C1666.3 134.3 1668.4 139.1 1670.3 144C1671.8 147.7 1673.2 151.5 1674.6 155.3C1675.1 156.8 1675.6 158.4 1676.1 159.9C1678 165.3 1679.8 170.8 1681.5 176.3C1683.7 183.3 1685.8 190.4 1687.8 197.5C1689.9 205 1692 212.6 1693.9 220.1C1696.1 228.5 1698.2 236.8 1700.3 245.2C1702.2 253.2 1704.2 261.1 1706.1 269.1C1708.2 277.5 1710.2 285.8 1712.3 294.2C1713.9 300.4 1715.6 306.7 1717.2 312.9C1717.9 315.3 1718.5 317.6 1719.1 319.9C1720.3 324.1 1721.5 328.4 1722.8 332.6C1724 336.8 1725.2 340.9 1726.5 345.1C1728.1 350.1 1729.7 355.1 1731.4 360C1733.4 365.9 1735.4 371.7 1737.5 377.5C1739.6 383.3 1741.8 389.1 1744 394.9C1746.1 400.3 1748.2 405.7 1750.4 411.1C1752.5 416.2 1754.5 421.2 1756.6 426.3C1758.6 431 1760.6 435.6 1762.6 440.3C1764.6 445 1766.6 449.7 1768.8 454.4C1770.7 458.7 1772.8 462.9 1775 467C1776.2 469.4 1777.6 471.8 1778.9 474.1C1781.8 478.9 1784.8 483.5 1788.2 487.8C1791.2 491.5 1794.5 495.1 1798.1 498.4C1800.9 501 1803.9 503.4 1807.1 505.5C1809 506.8 1811 507.9 1813.1 508.9C1814.9 509.8 1816.8 510.6 1818.8 511.3C1822.6 512.5 1826.7 513.1 1830.8 513.5C1836.9 514.1 1843.3 514.1 1849.7 514.7C1856.2 515.3 1862.7 516.6 1869.2 517.8C1875.6 518.9 1882 520 1888.3 520.9C1891.7 521.5 1895.1 521.9 1898.5 522.4C1906.1 523.4 1913.7 524.3 1921.4 525.1C1929.5 525.9 1937.7 526.6 1946 527.1C1955.7 527.8 1965.5 528.2 1975.6 528.6L1975.6 563.6Z" fill="#000" fill-opacity="0.142"/>
<path d="M1183.5 563.6L1183.5 526.9C1193.4 526.5 1203.2 526.2 1213.1 525.9C1218.5 525.7 1223.9 525.4 1229.4 525.1C1234.8 524.9 1240.2 524.5 1245.6 524.1C1251.8 523.6 1258 523.1 1264.1 522.3C1269.3 521.7 1274.5 521 1279.6 520.2C1284.7 519.4 1289.9 518.4 1295 517.3C1299.3 516.4 1303.6 515.4 1307.8 514.2C1312.2 513 1316.5 511.7 1320.8 510.3C1324.4 509.2 1327.9 508 1331.3 506.8C1334.1 505.8 1336.8 504.8 1339.5 503.8C1341.8 502.9 1344.2 502 1346.4 501.1C1349 500.1 1351.5 499.1 1353.8 497.8C1355.6 496.8 1357.4 495.6 1358.9 494C1361 491.7 1362.7 488.7 1364.2 485.8C1366.5 481.4 1368.4 477 1370.2 472.6C1372.1 467.7 1373.7 462.8 1375.1 457.8C1376.6 452.4 1377.9 447 1379.1 441.5C1380.3 436.1 1381.3 430.6 1382.4 425.1C1383.5 418.8 1384.7 412.5 1385.8 406.2C1386.9 400.3 1387.9 394.4 1389 388.5C1391.7 372.4 1394.4 356.2 1397 340.1C1398.4 331.1 1399.8 322.2 1401.2 313.2C1402.5 304.9 1403.7 296.5 1405 288.1C1405.8 282.7 1406.5 277.2 1407.3 271.7C1408.7 262.1 1410.1 252.5 1411.4 242.9C1412.8 232.4 1414.2 221.9 1415.6 211.4C1416.5 204 1417.4 196.6 1418.4 189.2C1419 184 1419.6 178.8 1420.3 173.6C1421.1 167.3 1422 160.9 1423 154.6C1423.8 149.5 1424.6 144.5 1425.6 139.5C1426.5 134.9 1427.5 130.3 1428.7 125.8C1429.6 122 1430.7 118.3 1432 114.6C1432.8 112.1 1433.8 109.6 1435 107.2C1435.9 105.3 1436.9 103.4 1438 101.5C1438.8 100.2 1439.7 98.8 1440.6 97.8C1441.3 97.1 1441.9 96.6 1442.6 96.3C1443.1 96 1443.7 95.9 1444.4 96.1C1445.3 96.3 1446.2 97 1447.2 98C1448.6 99.5 1450.1 101.6 1451.6 103.4C1453.6 105.7 1455.6 107.6 1457.7 109C1459.7 110.4 1461.7 111.3 1463.8 111.9C1465.5 112.4 1467.2 112.7 1469 112.7C1470.4 112.8 1471.7 112.7 1473.1 112.5C1474.3 112.4 1475.4 112.2 1476.5 112C1479.7 111.3 1482.8 110.1 1486.1 108.8C1488.8 107.7 1491.7 106.5 1494.5 105.2C1497.7 103.8 1501 102.4 1504.3 101.3C1507.7 100.1 1511.1 99.1 1514.6 98.4C1518.1 97.7 1521.7 97.2 1525.3 96.9C1528.6 96.7 1531.8 96.6 1535 96.7C1535.2 96.7 1535.3 96.7 1535.5 96.7C1539.9 96.9 1544.3 97.3 1548.8 98C1551.2 98.3 1553.7 98.8 1556.2 99.3C1558.7 99.8 1561.3 100.3 1563.8 100.9C1566.4 101.5 1569 102.1 1571.7 102.7C1574.3 103.2 1576.9 103.7 1579.5 104.1C1582.2 104.4 1584.9 104.7 1587.6 104.7C1590 104.7 1592.3 104.6 1594.7 104.4C1597.1 104.2 1599.5 103.9 1601.8 103.6C1607.2 103 1612.6 102.6 1617.9 103.4C1620.7 103.7 1623.5 104.5 1626.2 105.4C1629.5 106.5 1632.7 108 1635.9 109.6C1638.3 110.9 1640.8 112.3 1643.1 113.1C1645.1 113.8 1647.1 114.1 1649 113.6C1650.7 113.1 1652.4 111.8 1654.1 110.2C1656.4 107.9 1658.6 104.8 1660.8 102.1C1662.7 99.7 1664.6 97.5 1666.6 96.3C1667.9 95.4 1669.3 95 1670.6 95C1671.7 95.1 1672.8 95.4 1673.8 96.1C1675.2 97.1 1676.4 98.7 1677.5 100.6C1678.9 102.9 1680 105.8 1681.1 108.6C1682.6 112.6 1683.9 116.5 1684.9 120.4C1686.3 125.5 1687.4 130.5 1688.4 135.5C1689.3 140.6 1690.1 145.5 1690.9 150.5C1691.5 154.5 1692.2 158.5 1692.8 162.5C1693.6 167.9 1694.4 173.3 1695.3 178.7C1696.4 186.2 1697.5 193.7 1698.7 201.2C1699.9 209.5 1701.1 217.9 1702.4 226.3C1703.7 235.5 1705.1 244.7 1706.5 253.9C1707.6 261.4 1708.7 268.9 1709.8 276.5C1710.5 281.5 1711.3 286.5 1712.1 291.6C1712.8 296.6 1713.6 301.6 1714.3 306.7C1715.1 312 1715.9 317.3 1716.7 322.5C1717.6 328 1718.4 333.4 1719.2 338.8C1720.2 345.1 1721.2 351.4 1722.1 357.6C1723.1 363.9 1724.1 370.1 1725.1 376.4C1726.1 382.6 1727.1 388.9 1728.1 395.1C1729.1 401.4 1730.1 407.6 1731.2 413.9C1732.3 420.1 1733.4 426.3 1734.6 432.6C1735.5 437.6 1736.6 442.6 1737.7 447.6C1738.7 452.2 1739.8 456.9 1740.9 461.5C1741.7 464.5 1742.4 467.5 1743.3 470.4C1744.1 473.3 1744.9 476.3 1745.8 479.2C1746.7 482.2 1747.7 485.3 1748.9 488C1750 490.3 1751.3 492.5 1753 494.2C1754.6 495.9 1756.6 497.2 1758.8 498.4C1761.5 499.8 1764.5 500.9 1767.4 502C1769.9 503 1772.4 503.9 1774.9 504.8C1779.2 506.4 1783.5 508 1787.7 509.5C1793.5 511.6 1799.4 513.5 1805.3 515.2C1809.8 516.4 1814.4 517.5 1819.1 518.5C1824.8 519.7 1830.6 520.7 1836.5 521.5C1841.1 522.2 1845.7 522.7 1850.3 523.2C1855.7 523.7 1861.1 524.2 1866.6 524.5C1871.6 524.9 1876.6 525.2 1881.6 525.5C1887.1 525.8 1892.6 526 1898 526.3L1898 563.6Z" fill="#000612" fill-opacity="0.16"/>
<path d="M1264.9 563.6L1264.9 524C1269.9 523.5 1274.8 523 1279.7 522.6C1285.4 522 1291 521.4 1296.6 520.7C1301.8 520.1 1306.9 519.4 1312 518.6C1317.2 517.7 1322.4 516.7 1327.6 515.4C1333.1 514.1 1338.5 512.6 1343.8 510.7C1349.2 508.7 1354.4 506.2 1359.2 503.2C1362.2 501.3 1365 499.2 1367.6 496.8C1370.4 494.3 1372.9 491.6 1375.2 488.6C1377.6 485.6 1379.8 482.3 1381.7 478.9C1382.6 477.3 1383.5 475.6 1384.3 473.9C1385.4 471.5 1386.4 469 1387.3 466.5C1388.9 462.1 1390.2 457.6 1391.2 453C1392.4 447.6 1393.2 442.2 1393.9 436.7C1394.6 431.2 1395.1 425.7 1395.6 420.2C1396.2 413.9 1396.8 407.5 1397.4 401.2C1398.1 393.6 1398.7 386 1399.4 378.4C1400.5 365.6 1401.6 352.8 1402.7 340.1C1403.4 331.1 1404.1 322.2 1404.8 313.2C1405.4 305.7 1406 298.1 1406.6 290.6C1407 284.3 1407.5 278 1408 271.7C1408.8 260 1409.6 248.2 1410.4 236.5C1411.1 225.2 1411.8 213.9 1412.5 202.5C1412.7 198.1 1413 193.7 1413.3 189.4C1413.7 181.2 1414.2 173.1 1414.7 165C1415.3 154.5 1415.9 144 1416.5 133.4C1417.1 122.9 1417.7 112.3 1418.8 101.8C1419.5 95.4 1420.4 89 1421.5 82.7C1422.3 78.4 1423.3 74.1 1424.3 69.8C1424.8 67.8 1425.4 65.8 1426 64.9C1426.3 64.5 1426.5 64.3 1426.8 64.3C1427 64.3 1427.3 64.5 1427.6 64.8C1428.3 65.6 1429.1 67.3 1429.7 69.1C1430.8 72 1431.6 75.3 1432.3 78.1C1433.2 81.7 1433.9 84.6 1434.7 87.9C1435.5 91.1 1436.4 94.6 1438 97.4C1438.9 99.1 1440.1 100.5 1441.4 101.4C1442.2 101.9 1443.1 102.3 1444 102.4C1445.1 102.5 1446.2 102.2 1447.4 101.8C1449.3 101.1 1451.4 99.9 1453.4 99C1455.8 97.9 1458.3 97.3 1460.7 96.8C1463.6 96.3 1466.4 96.1 1469.3 96.1C1474.5 96 1479.6 96.3 1484.8 95.8C1487.8 95.4 1490.9 94.8 1493.9 94.1C1496.2 93.5 1498.6 92.9 1500.9 92.3C1503.8 91.7 1506.6 91.1 1509.4 90.7C1511.8 90.4 1514.2 90.3 1516.6 90.5C1519.3 90.7 1522 91.3 1524.7 92C1527.2 92.7 1529.8 93.4 1532.3 94.1C1535.1 94.9 1537.9 95.5 1540.7 95.8C1543 96 1545.4 95.9 1547.7 95.5C1549.6 95.2 1551.4 94.8 1553.3 94.2C1555.1 93.6 1556.9 92.9 1558.7 92.3C1560.4 91.8 1562.1 91.4 1563.7 91.4C1565.4 91.4 1567.1 91.8 1568.8 92.3C1570.6 92.9 1572.4 93.7 1574.3 94.4C1576.1 95.1 1577.9 95.7 1579.7 96C1581.3 96.2 1582.9 96.2 1584.5 96.1C1586.2 95.9 1587.9 95.6 1589.6 95.3C1591.5 95 1593.3 94.6 1595.2 94.5C1596.9 94.3 1598.6 94.3 1600.3 94.7C1601.9 94.9 1603.5 95.5 1605.1 96C1606.8 96.5 1608.4 97 1610.1 97.1C1612.6 97.2 1615.1 96.5 1617.6 95.7C1620.3 94.9 1623 93.9 1625.7 94C1628.5 94.1 1631.2 95.2 1633.9 96.4C1636.6 97.7 1639.3 99.1 1642.1 99.6C1644.6 100.1 1647.3 99.8 1650.1 100.1C1652.6 100.3 1655.3 101 1657.9 101.7C1660.1 102.4 1662.3 103.1 1664.3 103.6C1665.4 103.8 1666.5 104 1667.4 103.8C1668.4 103.6 1669.4 103 1670.2 102.1C1671.8 100.4 1673 97.7 1674 95.2C1675.7 90.8 1676.8 86.8 1677.6 82.8C1678.5 78 1679 73.2 1679.8 67.9C1680.7 62.7 1681.8 57 1683.3 51.8C1684.4 48.1 1685.8 44.7 1687.4 42C1688.1 40.8 1688.8 39.8 1689.5 39.6C1690.1 39.4 1690.7 40 1691.2 40.7C1692.7 43 1694 47.4 1695 51.8C1696.8 58.8 1697.9 65.4 1698.8 71.9C1699.8 79.5 1700.5 86.8 1701.1 94.2C1701.8 102.4 1702.5 110.7 1703.2 119C1703.8 126 1704.4 133.1 1705 140.2C1705.6 146.7 1706.1 153.3 1706.6 159.8C1707 165.3 1707.4 170.7 1707.8 176.1C1708.4 185.3 1709.1 194.5 1709.6 203.7C1710.3 214.2 1710.9 224.7 1711.4 235.1C1711.9 243.5 1712.3 251.9 1712.7 260.3C1713.1 268.6 1713.5 277 1713.8 285.4C1714.1 291.6 1714.3 297.9 1714.5 304.2C1714.7 309.5 1714.9 314.8 1715.1 320.2C1715.4 328.5 1715.6 336.9 1715.9 345.2C1716.2 353.5 1716.6 361.9 1717 370.2C1717.4 378.5 1717.9 386.8 1718.5 395.1C1719 401.8 1719.7 408.4 1720.4 415.1C1721 420.9 1721.7 426.7 1722.6 432.5C1723.3 437.5 1724.1 442.4 1725 447.4C1725.6 451.1 1726.4 454.9 1727.1 458.6C1727.4 459.8 1727.6 460.9 1727.9 462.1C1728.5 464.6 1729.3 467 1730.6 469.3C1731.9 471.7 1733.7 474 1735.4 476.2C1737.4 478.9 1739.1 481.6 1740.9 484.2C1742.7 486.9 1744.7 489.5 1746.8 492.1C1748.4 494 1750.1 495.9 1751.9 497.7C1754.1 499.9 1756.5 502 1759 503.8C1761.6 505.7 1764.4 507.3 1767.3 508.7C1769.7 509.9 1772.2 510.9 1774.8 511.9C1777.5 512.8 1780.3 513.7 1783.2 514.5C1785.9 515.2 1788.7 515.8 1791.5 516.4C1794 516.9 1796.6 517.4 1799.2 517.8C1802.1 518.4 1805.1 518.9 1808 519.4C1810.4 519.8 1812.7 520.2 1815 520.7L1815 563.6Z" fill="#6e6f72" fill-opacity="0.16"/>
<g transform="scale(0.8 1)">
<path d="M1374.7 529.7C1396.4 529.5 1417.6 528.8 1438.5 527.7C1453.1 526.9 1467.5 526 1481.9 524.8C1493.2 523.8 1504.5 522.8 1515.9 521.6C1521.6 521 1527.3 520.4 1533 519.7C1542.2 518.6 1551.4 517.5 1560.6 516.2C1569.3 515.1 1578.1 513.9 1586.9 512.6C1595.7 511.3 1604.6 509.9 1613.3 508.3C1619.9 507.1 1626.4 505.8 1632.6 504.4C1637.9 503.1 1643 501.8 1647.9 500.3C1650 499.7 1652 499.1 1653.9 498.4C1655.4 497.8 1656.9 497.2 1658.4 496.6C1660 495.9 1661.5 495.1 1663 494.3C1665.3 492.9 1667.5 491.4 1669.6 489.7C1671.9 487.8 1674.1 485.6 1676.2 483.4C1678.5 480.9 1680.7 478.2 1682.7 475.5C1685.7 471.4 1688.4 467.3 1690.9 463.2C1693 459.8 1694.8 456.3 1696.6 452.9C1698.7 448.7 1700.7 444.5 1702.6 440.2C1704.8 435.2 1707 430.2 1709 425.1C1711.1 419.7 1713.2 414.2 1715.2 408.7C1717.3 402.9 1719.3 396.9 1721.3 391C1722.7 386.8 1724.1 382.6 1725.4 378.3C1729.5 365.6 1733.4 352.8 1737.4 340.1C1740.9 329 1744.6 318 1748.4 306.9C1752.1 296 1756 285.2 1760 274.4C1762.8 267 1765.7 259.6 1768.6 252.3C1772.9 241.5 1777.4 230.8 1782.1 220.2C1786.2 210.9 1790.5 201.6 1794.9 192.4C1795.4 191.4 1795.9 190.4 1796.4 189.4C1798.5 184.9 1800.7 180.5 1803 176.1C1805.9 170.5 1808.9 165 1812.2 159.5C1815.2 154.4 1818.4 149.3 1821.8 144.4C1824.9 140 1828.2 135.6 1831.8 131.3C1835 127.5 1838.3 123.8 1841.9 120.2C1843.5 118.6 1845.1 117 1846.8 115.5C1849.5 113 1852.3 110.6 1855.2 108.4C1858.2 106.1 1861.4 104.1 1864.8 102.4C1867.1 101.2 1869.5 100.2 1872 99.4C1874.5 98.6 1877.1 98 1879.8 97.6C1884.8 96.8 1890.2 96.6 1895.7 96.7C1902.2 96.8 1908.9 97.4 1915.5 98C1922.1 98.5 1928.6 99 1935 99.4C1936.3 99.5 1937.5 99.6 1938.8 99.7C1944.1 100 1949.4 100.4 1954.7 100.7C1957.9 100.8 1961.1 101 1964.3 101.1C1968.5 101.3 1972.8 101.5 1977.1 101.7C1981.4 101.8 1985.7 102 1990.1 102C1994.4 102.1 1998.8 102.2 2003.2 102.1C2009.9 102 2016.7 101.8 2023.4 101.2C2027.4 100.9 2031.4 100.4 2035.3 100.2C2037.9 100.1 2040.4 100.1 2042.9 100.3C2045.3 100.5 2047.8 100.9 2050 101.6C2052.6 102.4 2055 103.5 2057.2 104.8C2059.4 106.2 2061.5 107.7 2063.5 109.5C2066.5 112.1 2069.3 115.1 2071.8 118.2C2074.8 121.9 2077.5 125.7 2079.9 129.6C2082.9 134.3 2085.5 139.1 2087.9 144C2089.8 147.7 2091.5 151.5 2093.2 155.3C2093.9 156.8 2094.5 158.4 2095.2 159.9C2097.5 165.3 2099.7 170.8 2101.9 176.3C2104.7 183.3 2107.3 190.4 2109.8 197.5C2112.4 205 2115 212.6 2117.4 220.1C2120.1 228.5 2122.7 236.8 2125.3 245.2C2127.8 253.2 2130.2 261.1 2132.6 269.1C2135.2 277.5 2137.8 285.8 2140.4 294.2C2142.4 300.4 2144.5 306.7 2146.6 312.9C2147.3 315.3 2148.1 317.6 2148.9 319.9C2150.4 324.1 2151.9 328.4 2153.5 332.6C2155 336.8 2156.5 340.9 2158.2 345.1C2160.1 350.1 2162.2 355.1 2164.2 360C2166.7 365.9 2169.3 371.7 2171.9 377.5C2174.5 383.3 2177.2 389.1 2180 394.9C2182.6 400.3 2185.3 405.7 2188 411.1C2190.6 416.2 2193.2 421.2 2195.8 426.3C2198.2 431 2200.7 435.6 2203.2 440.3C2205.7 445 2208.3 449.7 2211 454.4C2213.4 458.7 2216 462.9 2218.7 467C2220.3 469.4 2222 471.8 2223.7 474.1C2227.2 478.9 2231 483.5 2235.3 487.8C2239 491.5 2243.1 495.1 2247.6 498.4C2251.1 501 2254.9 503.4 2258.9 505.5C2261.3 506.8 2263.8 507.9 2266.3 508.9C2268.7 509.8 2271.1 510.6 2273.5 511.3C2278.3 512.5 2283.3 513.1 2288.4 513.5C2296.1 514.1 2304.1 514.1 2312.2 514.7C2320.3 515.3 2328.4 516.6 2336.5 517.8C2344.6 518.9 2352.5 520 2360.4 520.9C2364.6 521.5 2368.9 521.9 2373.1 522.4C2382.7 523.4 2392.2 524.3 2401.7 525.1C2411.9 525.9 2422.1 526.6 2432.5 527.1C2445.9 527.8 2459.6 528.3 2473.7 528.7" fill="none" stroke="#111" stroke-width="2.45" stroke-linejoin="round"/>
<path d="M1476.2 527C1489.6 526.6 1503 526.3 1516.3 525.9C1523.1 525.7 1529.9 525.4 1536.7 525.1C1543.5 524.9 1550.3 524.5 1557 524.1C1564.8 523.6 1572.5 523.1 1580.2 522.3C1586.6 521.7 1593.1 521 1599.5 520.2C1605.9 519.4 1612.3 518.4 1618.7 517.3C1624.1 516.4 1629.5 515.4 1634.8 514.2C1640.2 513 1645.6 511.7 1651 510.3C1655.4 509.2 1659.8 508 1664.2 506.8C1667.6 505.8 1671 504.8 1674.4 503.8C1677.3 502.9 1680.2 502 1683 501.1C1686.2 500.1 1689.3 499.1 1692.2 497.8C1694.5 496.8 1696.7 495.6 1698.6 494C1701.3 491.7 1703.4 488.7 1705.3 485.8C1708.1 481.4 1710.6 477 1712.7 472.6C1715.1 467.7 1717.1 462.8 1718.9 457.8C1720.8 452.4 1722.4 447 1723.9 441.5C1725.4 436.1 1726.7 430.6 1728 425.1C1729.4 418.8 1730.9 412.5 1732.3 406.2C1733.6 400.3 1734.9 394.4 1736.2 388.5C1739.7 372.4 1743 356.2 1746.2 340.1C1748 331.1 1749.8 322.2 1751.5 313.2C1753.1 304.9 1754.7 296.5 1756.2 288.1C1757.2 282.7 1758.2 277.2 1759.2 271.7C1760.9 262.1 1762.6 252.5 1764.2 242.9C1766 232.4 1767.7 221.9 1769.4 211.4C1770.6 204 1771.8 196.6 1772.9 189.2C1773.8 184 1774.5 178.8 1775.4 173.6C1776.4 167.3 1777.5 160.9 1778.7 154.6C1779.7 149.5 1780.8 144.5 1782 139.5C1783.2 134.9 1784.4 130.3 1785.8 125.8C1787 122 1788.3 118.3 1790 114.6C1791 112.1 1792.3 109.6 1793.7 107.2C1794.8 105.3 1796.1 103.4 1797.5 101.5C1798.5 100.2 1799.6 98.8 1800.8 97.8C1801.6 97.1 1802.4 96.6 1803.2 96.3C1803.9 96 1804.7 95.9 1805.5 96.1C1806.6 96.3 1807.7 97 1808.9 98C1810.7 99.5 1812.6 101.6 1814.5 103.4C1817 105.7 1819.5 107.6 1822.1 109C1824.6 110.4 1827.2 111.3 1829.8 111.9C1831.9 112.4 1834.1 112.7 1836.2 112.7C1837.9 112.8 1839.7 112.7 1841.4 112.5C1842.8 112.4 1844.2 112.2 1845.6 112C1849.6 111.3 1853.5 110.1 1857.6 108.8C1861.1 107.7 1864.6 106.5 1868.1 105.2C1872.2 103.8 1876.3 102.4 1880.4 101.3C1884.6 100.1 1888.9 99.1 1893.2 98.4C1897.7 97.7 1902.2 97.2 1906.7 96.9C1910.7 96.7 1914.7 96.6 1918.8 96.7C1919 96.7 1919.1 96.7 1919.3 96.7C1924.9 96.9 1930.4 97.3 1936 98C1939.1 98.3 1942.2 98.8 1945.3 99.3C1948.4 99.8 1951.6 100.3 1954.7 100.9C1958 101.5 1961.3 102.1 1964.6 102.7C1967.8 103.2 1971.1 103.7 1974.3 104.1C1977.7 104.4 1981.1 104.7 1984.5 104.7C1987.5 104.7 1990.4 104.6 1993.4 104.4C1996.3 104.2 1999.3 103.9 2002.3 103.6C2009 103 2015.7 102.6 2022.4 103.4C2025.9 103.7 2029.3 104.5 2032.8 105.4C2036.9 106.5 2040.9 108 2044.8 109.6C2047.9 110.9 2050.9 112.3 2053.9 113.1C2056.4 113.8 2058.9 114.1 2061.2 113.6C2063.4 113.1 2065.5 111.8 2067.6 110.2C2070.5 107.9 2073.2 104.8 2076 102.1C2078.4 99.7 2080.8 97.5 2083.2 96.3C2084.9 95.4 2086.6 95 2088.2 95C2089.6 95.1 2091 95.4 2092.2 96.1C2094 97.1 2095.5 98.7 2096.9 100.6C2098.6 102.9 2100.1 105.8 2101.4 108.6C2103.2 112.6 2104.8 116.5 2106.2 120.4C2107.9 125.5 2109.3 130.5 2110.5 135.5C2111.7 140.6 2112.7 145.5 2113.6 150.5C2114.4 154.5 2115.2 158.5 2116 162.5C2117 167.9 2118 173.3 2119.1 178.7C2120.5 186.2 2121.9 193.7 2123.3 201.2C2124.9 209.5 2126.4 217.9 2128 226.3C2129.7 235.5 2131.4 244.7 2133.1 253.9C2134.5 261.4 2135.8 268.9 2137.2 276.5C2138.2 281.5 2139.1 286.5 2140.1 291.6C2141 296.6 2142 301.6 2142.9 306.7C2143.9 312 2144.9 317.3 2145.9 322.5C2146.9 328 2148 333.4 2149 338.8C2150.2 345.1 2151.5 351.4 2152.7 357.6C2153.9 363.9 2155.1 370.1 2156.4 376.4C2157.6 382.6 2158.9 388.9 2160.1 395.1C2161.4 401.4 2162.7 407.6 2164 413.9C2165.3 420.1 2166.7 426.3 2168.2 432.6C2169.4 437.6 2170.7 442.6 2172.1 447.6C2173.3 452.2 2174.7 456.9 2176.1 461.5C2177.1 464.5 2178.1 467.5 2179.1 470.4C2180.1 473.3 2181.1 476.3 2182.2 479.2C2183.4 482.2 2184.6 485.3 2186.2 488C2187.5 490.3 2189.1 492.5 2191.2 494.2C2193.3 495.9 2195.8 497.2 2198.5 498.4C2201.9 499.8 2205.6 500.9 2209.3 502C2212.4 503 2215.5 503.9 2218.7 504.8C2224 506.4 2229.3 508 2234.6 509.5C2241.9 511.6 2249.2 513.5 2256.6 515.2C2262.3 516.4 2268 517.5 2273.8 518.5C2281 519.7 2288.3 520.7 2295.6 521.5C2301.3 522.2 2307.1 522.7 2312.8 523.2C2319.6 523.7 2326.4 524.2 2333.2 524.5C2339.5 524.9 2345.8 525.2 2352 525.5C2359.9 525.8 2367.7 526.1 2375.5 526.4" fill="none" stroke="#111" stroke-width="2.3" stroke-dasharray="4.4 3.3" stroke-linejoin="round"/>
<path d="M1579.6 524.2C1586.3 523.6 1593 523.1 1599.7 522.6C1606.7 522 1613.8 521.4 1620.8 520.7C1627.2 520.1 1633.6 519.4 1640 518.6C1646.5 517.7 1653 516.7 1659.5 515.4C1666.3 514.1 1673.1 512.6 1679.7 510.7C1686.5 508.7 1693 506.2 1699 503.2C1702.8 501.3 1706.3 499.2 1709.6 496.8C1713 494.3 1716.2 491.6 1719 488.6C1722 485.6 1724.7 482.3 1727.1 478.9C1728.2 477.3 1729.3 475.6 1730.3 473.9C1731.7 471.5 1733 469 1734.1 466.5C1736.2 462.1 1737.7 457.6 1739 453C1740.5 447.6 1741.6 442.2 1742.4 436.7C1743.3 431.2 1743.9 425.7 1744.5 420.2C1745.3 413.9 1746 407.5 1746.7 401.2C1747.6 393.6 1748.4 386 1749.2 378.4C1750.6 365.6 1752 352.8 1753.3 340.1C1754.3 331.1 1755.2 322.2 1756 313.2C1756.8 305.7 1757.5 298.1 1758.2 290.6C1758.8 284.3 1759.4 278 1760 271.7C1761 260 1762 248.2 1763 236.5C1763.9 225.2 1764.8 213.9 1765.6 202.5C1765.9 198.1 1766.3 193.7 1766.6 189.4C1767.2 181.2 1767.8 173.1 1768.3 165C1769.1 154.5 1769.8 144 1770.6 133.4C1771.3 122.9 1772.1 112.3 1773.5 101.8C1774.4 95.4 1775.5 89 1776.9 82.7C1777.9 78.4 1779.1 74.1 1780.4 69.8C1781.1 67.8 1781.7 65.8 1782.5 64.9C1782.8 64.5 1783.1 64.3 1783.5 64.3C1783.8 64.3 1784.2 64.5 1784.5 64.8C1785.4 65.6 1786.3 67.3 1787.2 69.1C1788.5 72 1789.5 75.3 1790.4 78.1C1791.5 81.7 1792.4 84.6 1793.4 87.9C1794.4 91.1 1795.4 94.6 1797.5 97.4C1798.6 99.1 1800.1 100.5 1801.8 101.4C1802.8 101.9 1803.9 102.3 1805 102.4C1806.3 102.5 1807.8 102.2 1809.2 101.8C1811.6 101.1 1814.2 99.9 1816.8 99C1819.8 97.9 1822.8 97.3 1825.9 96.8C1829.4 96.3 1833 96.1 1836.6 96.1C1843.1 96 1849.6 96.3 1856.1 95.8C1859.8 95.4 1863.6 94.8 1867.3 94.1C1870.3 93.5 1873.2 92.9 1876.2 92.3C1879.7 91.7 1883.3 91.1 1886.8 90.7C1889.8 90.4 1892.7 90.3 1895.7 90.5C1899.1 90.7 1902.5 91.3 1905.9 92C1909 92.7 1912.2 93.4 1915.4 94.1C1918.9 94.9 1922.4 95.5 1925.9 95.8C1928.8 96 1931.7 95.9 1934.6 95.5C1937 95.2 1939.3 94.8 1941.7 94.2C1943.9 93.6 1946.1 92.9 1948.4 92.3C1950.5 91.8 1952.6 91.4 1954.7 91.4C1956.8 91.4 1958.9 91.8 1961 92.3C1963.3 92.9 1965.6 93.7 1967.8 94.4C1970.1 95.1 1972.3 95.7 1974.6 96C1976.6 96.2 1978.6 96.2 1980.6 96.1C1982.7 95.9 1984.9 95.6 1987 95.3C1989.3 95 1991.7 94.6 1994 94.5C1996.1 94.3 1998.2 94.3 2000.4 94.7C2002.4 94.9 2004.4 95.5 2006.4 96C2008.5 96.5 2010.5 97 2012.6 97.1C2015.7 97.2 2018.8 96.5 2021.9 95.7C2025.4 94.9 2028.8 93.9 2032.2 94C2035.6 94.1 2039 95.2 2042.4 96.4C2045.8 97.7 2049.2 99.1 2052.6 99.6C2055.8 100.1 2059.1 99.8 2062.6 100.1C2065.8 100.3 2069.1 101 2072.4 101.7C2075.2 102.4 2077.9 103.1 2080.4 103.6C2081.8 103.8 2083.1 104 2084.2 103.8C2085.6 103.6 2086.7 103 2087.8 102.1C2089.7 100.4 2091.3 97.7 2092.5 95.2C2094.7 90.8 2096 86.8 2097 82.8C2098.1 78 2098.8 73.2 2099.8 67.9C2100.8 62.7 2102.2 57 2104.1 51.8C2105.5 48.1 2107.2 44.7 2109.2 42C2110.1 40.8 2111 39.8 2111.9 39.6C2112.6 39.4 2113.4 40 2114 40.7C2115.9 43 2117.5 47.4 2118.8 51.8C2120.9 58.8 2122.4 65.4 2123.5 71.9C2124.8 79.5 2125.6 86.8 2126.4 94.2C2127.2 102.4 2128.1 110.7 2129 119C2129.8 126 2130.5 133.1 2131.3 140.2C2131.9 146.7 2132.6 153.3 2133.2 159.8C2133.7 165.3 2134.2 170.7 2134.7 176.1C2135.5 185.3 2136.3 194.5 2137 203.7C2137.8 214.2 2138.6 224.7 2139.3 235.1C2139.9 243.5 2140.4 251.9 2140.9 260.3C2141.4 268.6 2141.8 277 2142.2 285.4C2142.6 291.6 2142.9 297.9 2143.2 304.2C2143.4 309.5 2143.6 314.8 2143.9 320.2C2144.2 328.5 2144.5 336.9 2144.9 345.2C2145.3 353.5 2145.7 361.9 2146.2 370.2C2146.7 378.5 2147.4 386.8 2148.2 395.1C2148.8 401.8 2149.6 408.4 2150.5 415.1C2151.3 420.9 2152.2 426.7 2153.2 432.5C2154.1 437.5 2155.1 442.4 2156.2 447.4C2157.1 451.1 2158 454.9 2158.9 458.6C2159.2 459.8 2159.5 460.9 2159.9 462.1C2160.7 464.6 2161.7 467 2163.2 469.3C2164.9 471.7 2167.2 474 2169.2 476.2C2171.7 478.9 2173.8 481.6 2176.1 484.2C2178.4 486.9 2180.9 489.5 2183.5 492.1C2185.5 494 2187.7 495.9 2189.9 497.7C2192.6 499.9 2195.6 502 2198.7 503.8C2202 505.7 2205.5 507.3 2209.1 508.7C2212.1 509.9 2215.3 510.9 2218.5 511.9C2221.9 512.8 2225.4 513.7 2229 514.5C2232.4 515.2 2235.9 515.8 2239.3 516.4C2242.5 516.9 2245.8 517.4 2249 517.8C2252.7 518.4 2256.3 518.9 2260 519.4C2263.9 519.9 2267.7 520.5 2271.4 521.1" fill="none" stroke="#777777" stroke-width="2.3" stroke-linejoin="round"/>
</g>
<path d="M1161.9 526.6H1168.7M1909.7 524.2H1916.5" fill="none" stroke="#222" stroke-width="1.6" stroke-opacity="0.55"/>
<path d="M1224.2 518.5H1231M1224.2 520.5H1231M1286.5 507.3H1293.3M1286.5 509.6H1293.3M1348.9 462.7H1355.7M1348.9 465.7H1355.7M1411.2 250.6H1418M1411.2 255.9H1418M1473.5 113H1480.3M1473.5 119.3H1480.3M1535.8 95.4H1542.6M1535.8 101.9H1542.6M1598.1 98.9H1604.9M1598.1 105.3H1604.9M1660.4 126.2H1667.2M1660.4 132.5H1667.2M1722.7 341.6H1729.5M1722.7 346H1729.5M1785.1 486.7H1791.9M1785.1 489.4H1791.9M1847.4 513.7H1854.2M1847.4 515.8H1854.2" fill="none" stroke="#222" stroke-width="0.9"/>
<path d="M1227.6 518.5V520.5M1289.9 507.3V509.6M1352.3 462.7V465.7M1414.6 250.6V255.9M1476.9 113V119.3M1539.2 95.4V101.9M1601.5 98.9V105.3M1663.8 126.2V132.5M1726.1 341.6V346M1788.5 486.7V489.4M1850.8 513.7V515.8" fill="none" stroke="#222" stroke-width="1"/>
<path d="M1211.2 524.5H1218M1211.2 527.1H1218M1242.3 522.8H1249.1M1242.3 525.4H1249.1M1273.3 519.3H1280.1M1273.3 522H1280.1M1304.4 512.7H1311.2M1304.4 515.7H1311.2M1335.5 502.4H1342.3M1335.5 505.6H1342.3M1366.6 471.1H1373.4M1366.6 475.1H1373.4M1397.6 310.8H1404.4M1397.6 317.4H1404.4M1428.7 109.7H1435.5M1428.7 118.6H1435.5M1459.8 107.3H1466.6M1459.8 116.2H1466.6M1490.9 100.8H1497.7M1490.9 109.8H1497.7M1522 92.4H1528.8M1522 101.5H1528.8M1553 94.8H1559.8M1553 103.8H1559.8M1584.1 100.2H1590.9M1584.1 109.2H1590.9M1615.2 99H1622M1615.2 108H1622M1646.3 108.9H1653.1M1646.3 117.8H1653.1M1677.4 103.2H1684.2M1677.4 112.1H1684.2M1708.4 286.6H1715.2M1708.4 293.6H1715.2M1739.5 467.1H1746.3M1739.5 471.2H1746.3M1770.6 502.9H1777.4M1770.6 506.1H1777.4M1801.7 513.6H1808.5M1801.7 516.6H1808.5M1832.7 520.1H1839.5M1832.7 522.8H1839.5M1863.8 523.3H1870.6M1863.8 525.9H1870.6" fill="none" stroke="#222" stroke-width="0.9"/>
<path d="M1214.6 524.5V527.1M1245.7 522.8V525.4M1276.7 519.3V522M1307.8 512.7V515.7M1338.9 502.4V505.6M1370 471.1V475.1M1401 310.8V317.4M1432.1 109.7V118.6M1463.2 107.3V116.2M1494.3 100.8V109.8M1525.4 92.4V101.5M1556.4 94.8V103.8M1587.5 100.2V109.2M1618.6 99V108M1649.7 108.9V117.8M1680.8 103.2V112.1M1711.8 286.6V293.6M1742.9 467.1V471.2M1774 502.9V506.1M1805.1 513.6V516.6M1836.1 520.1V522.8M1867.2 523.3V525.9" fill="none" stroke="#222" stroke-width="1" stroke-dasharray="4.4 3.3" stroke-dashoffset="4"/>
<path d="M1277.2 520.5H1284M1277.2 524.4H1284M1292.9 518.8H1299.7M1292.9 522.7H1299.7M1308.7 516.5H1315.5M1308.7 520.6H1315.5M1324.4 513.3H1331.2M1324.4 517.5H1331.2M1340.1 508.6H1346.9M1340.1 513H1346.9M1355.8 500.9H1362.6M1355.8 505.5H1362.6M1371.5 486.4H1378.3M1371.5 491.6H1378.3M1387.2 452.3H1394M1387.2 458.6H1394M1403 288.6H1409.8M1403 298.4H1409.8M1418.7 73.3H1425.5M1418.7 86.5H1425.5M1434.4 90.6H1441.2M1434.4 103.6H1441.2M1450.1 92.5H1456.9M1450.1 105.4H1456.9M1465.8 89.6H1472.6M1465.8 102.6H1472.6M1481.5 89.3H1488.3M1481.5 102.2H1488.3M1497.3 85.9H1504.1M1497.3 98.9H1504.1M1513 84H1519.8M1513 97H1519.8M1528.7 87.6H1535.5M1528.7 100.6H1535.5M1544.4 89H1551.2M1544.4 102H1551.2M1560.1 84.9H1566.9M1560.1 97.9H1566.9M1575.8 89.4H1582.6M1575.8 102.4H1582.6M1591.6 88H1598.4M1591.6 101H1598.4M1607.3 90.6H1614.1M1607.3 103.6H1614.1M1623 87.5H1629.8M1623 100.5H1629.8M1638.7 93.2H1645.5M1638.7 106.1H1645.5M1654.4 95.3H1661.2M1654.4 108.2H1661.2M1670.1 89.9H1676.9M1670.1 102.9H1676.9M1685.9 32.8H1692.7M1685.9 46.6H1692.7M1701.6 133.6H1708.4M1701.6 145.9H1708.4M1717.3 414.3H1724.1M1717.3 421.6H1724.1M1733 474.9H1739.8M1733 480.4H1739.8M1748.7 495.5H1755.5M1748.7 500.3H1755.5M1764.4 506.8H1771.2M1764.4 511.2H1771.2M1780.2 512.4H1787M1780.2 516.7H1787M1795.9 515.8H1802.7M1795.9 519.9H1802.7" fill="none" stroke="#808080" stroke-width="0.9"/>
<path d="M1280.6 520.5V524.4M1296.3 518.8V522.7M1312.1 516.5V520.6M1327.8 513.3V517.5M1343.5 508.6V513M1359.2 500.9V505.5M1374.9 486.4V491.6M1390.6 452.3V458.6M1406.4 288.6V298.4M1422.1 73.3V86.5M1437.8 90.6V103.6M1453.5 92.5V105.4M1469.2 89.6V102.6M1484.9 89.3V102.2M1500.7 85.9V98.9M1516.4 84V97M1532.1 87.6V100.6M1547.8 89V102M1563.5 84.9V97.9M1579.2 89.4V102.4M1595 88V101M1610.7 90.6V103.6M1626.4 87.5V100.5M1642.1 93.2V106.1M1657.8 95.3V108.2M1673.5 89.9V102.9M1689.3 32.8V46.6M1705 133.6V145.9M1720.7 414.3V421.6M1736.4 474.9V480.4M1752.1 495.5V500.3M1767.8 506.8V511.2M1783.6 512.4V516.7M1799.3 515.8V519.9" fill="none" stroke="#808080" stroke-width="1"/>
</g>
<rect x="1066.4" y="1.3" width="927.7" height="573.9" fill="none" stroke="#8c8c8c" stroke-width="1"/>
<path d="M1078.8 575.2v-1.9M1116.7 575.2v-1.9M1154.5 575.2v-1.9M1192.4 575.2v-1.9M1230.3 575.2v-3.4M1268.2 575.2v-1.9M1306.1 575.2v-1.9M1343.9 575.2v-1.9M1381.8 575.2v-1.9M1419.7 575.2v-3.4M1457.6 575.2v-1.9M1495.5 575.2v-1.9M1533.3 575.2v-1.9M1571.2 575.2v-1.9M1609.1 575.2v-3.4M1647 575.2v-1.9M1684.9 575.2v-1.9M1722.7 575.2v-1.9M1760.6 575.2v-1.9M1798.5 575.2v-3.4M1836.4 575.2v-1.9M1874.3 575.2v-1.9M1912.1 575.2v-1.9M1950 575.2v-1.9M1987.9 575.2v-3.4M1066.4 563.6h3.4M1066.4 537.8h1.9M1066.4 511.9h1.9M1066.4 486.1h1.9M1066.4 460.2h1.9M1066.4 434.3h3.4M1066.4 408.5h1.9M1066.4 382.6h1.9M1066.4 356.7h1.9M1066.4 330.9h1.9M1066.4 305h3.4M1066.4 279.1h1.9M1066.4 253.3h1.9M1066.4 227.4h1.9M1066.4 201.5h1.9M1066.4 175.7h3.4M1066.4 149.8h1.9M1066.4 123.9h1.9M1066.4 98.1h1.9M1066.4 72.2h1.9M1066.4 46.4h3.4M1066.4 20.5h1.9" stroke="#8a8a8a" stroke-width="0.8" fill="none"/>
<text x="1230.3" y="595.6" font-size="15.6" text-anchor="middle" fill="#1a1a1a" stroke="#1a1a1a" stroke-width="0.4" textLength="16.2" lengthAdjust="spacingAndGlyphs">10</text>
<text x="1419.7" y="595.6" font-size="15.6" text-anchor="middle" fill="#1a1a1a" stroke="#1a1a1a" stroke-width="0.4" textLength="16.2" lengthAdjust="spacingAndGlyphs">20</text>
<text x="1609.1" y="595.6" font-size="15.6" text-anchor="middle" fill="#1a1a1a" stroke="#1a1a1a" stroke-width="0.4" textLength="16.2" lengthAdjust="spacingAndGlyphs">30</text>
<text x="1798.5" y="595.6" font-size="15.6" text-anchor="middle" fill="#1a1a1a" stroke="#1a1a1a" stroke-width="0.4" textLength="16.2" lengthAdjust="spacingAndGlyphs">40</text>
<text x="1987.9" y="595.6" font-size="15.6" text-anchor="middle" fill="#1a1a1a" stroke="#1a1a1a" stroke-width="0.4" textLength="16.2" lengthAdjust="spacingAndGlyphs">50</text>
<text x="1061.6" y="569.2" font-size="15.6" text-anchor="end" fill="#1a1a1a" stroke="#1a1a1a" stroke-width="0.4" textLength="8.1" lengthAdjust="spacingAndGlyphs">0</text>
<text x="1061.6" y="439.9" font-size="15.6" text-anchor="end" fill="#1a1a1a" stroke="#1a1a1a" stroke-width="0.4" textLength="16.2" lengthAdjust="spacingAndGlyphs">50</text>
<text x="1061.6" y="310.6" font-size="15.6" text-anchor="end" fill="#1a1a1a" stroke="#1a1a1a" stroke-width="0.4" textLength="24.3" lengthAdjust="spacingAndGlyphs">100</text>
<text x="1061.6" y="181.3" font-size="15.6" text-anchor="end" fill="#1a1a1a" stroke="#1a1a1a" stroke-width="0.4" textLength="24.3" lengthAdjust="spacingAndGlyphs">150</text>
<text x="1061.6" y="52" font-size="15.6" text-anchor="end" fill="#1a1a1a" stroke="#1a1a1a" stroke-width="0.4" textLength="24.3" lengthAdjust="spacingAndGlyphs">200</text>
<text x="1530" y="623.3" font-size="15.5" text-anchor="middle" fill="#1a1a1a" stroke="#1a1a1a" stroke-width="0.4" textLength="82" lengthAdjust="spacingAndGlyphs">z−axis (μm)</text>
<text x="1025.6" y="287.2" font-size="16" text-anchor="middle" fill="#1a1a1a" stroke="#1a1a1a" stroke-width="0.4" textLength="300" lengthAdjust="spacingAndGlyphs" transform="rotate(-90 1025.6 287.2)">intensity fluorescence sea response (a.u.)</text>
<rect x="1149.7" y="67.7" width="204.7" height="96.7" rx="8.5" ry="8.5" fill="#fff" stroke="#1c1c1c" stroke-width="0.9"/>
<path d="M1158.4 85.5H1196" stroke="#111" stroke-width="2.4" fill="none"/>
<text x="1205.5" y="90.9" font-size="15.8" text-anchor="start" fill="#1a1a1a" stroke="#1a1a1a" stroke-width="0.4" textLength="139.6" lengthAdjust="spacingAndGlyphs">63x/1.4 Rho Oil 8AU</text>
<path d="M1159.3 116.3H1196" stroke="#111" stroke-width="1.9" stroke-dasharray="3.9 3.87" fill="none"/>
<text x="1205.5" y="121.7" font-size="15.8" text-anchor="start" fill="#1a1a1a" stroke="#1a1a1a" stroke-width="0.4" textLength="139.6" lengthAdjust="spacingAndGlyphs">63x/1.4 Rho Oil 4AU</text>
<path d="M1158.4 147.4H1196" stroke="#808080" stroke-width="2.4" fill="none"/>
<text x="1205.5" y="152.8" font-size="15.8" text-anchor="start" fill="#1a1a1a" stroke="#1a1a1a" stroke-width="0.4" textLength="139.6" lengthAdjust="spacingAndGlyphs">63x/1.4 Rho Oil 2AU</text>
</g>
<g id="panel3">
<clipPath id="c3"><rect x="55.3" y="675.8" width="921.4" height="569.5"/></clipPath>
<path d="M516 675.8V1245.3M55.3 1105.5H976.7M55.3 977H976.7M55.3 848.5H976.7M55.3 720H976.7" stroke="#e4e4e4" stroke-width="0.7" fill="none"/>
<g clip-path="url(#c3)">
<path d="M55.3 1234L55.3 1190.8C70.3 1189.8 85.2 1188.5 100.1 1187.1C116.7 1185.5 133.3 1183.8 149.9 1182.2C166.6 1180.6 183.3 1179.1 200.2 1178C212.8 1177.1 225.6 1176.4 238.3 1175.5C248.8 1174.6 259.3 1173.6 269.6 1172.1C273.8 1171.5 277.9 1170.9 282 1170C284.9 1169.4 287.8 1168.6 290.7 1167.8C293.8 1167 296.9 1166 300 1164.9C304.2 1163.4 308.3 1161.7 312.4 1159.8C316.6 1157.9 320.7 1155.8 324.8 1153.5C329 1151.1 333.1 1148.5 337.1 1145.8C342.3 1142.3 347.3 1138.4 352.1 1134.4C355.9 1131.2 359.5 1127.9 363 1124.5C367.3 1120.4 371.4 1116.2 375.3 1111.8C379.7 1106.9 383.9 1101.9 387.9 1096.7C392.2 1091.3 396.3 1085.8 400.3 1080.1C404.5 1074.2 408.6 1068.2 412.6 1062.1C415.4 1057.8 418.2 1053.5 421 1049.2C428.9 1036.8 436.5 1024.5 444.2 1012.2C451.1 1001 458 990 465.1 979C472.1 968.3 479.3 957.6 486.8 947.1C492.3 939.5 497.9 932 503.7 924.5C512.2 913.6 521.1 902.9 530.2 892.4C538.3 883 546.7 873.8 555.3 864.9C556.2 863.9 557.1 863 558 862.1C562.4 857.6 566.8 853.2 571.4 848.9C577.4 843.2 583.5 837.7 589.8 832.4C595.9 827.3 602.2 822.3 608.6 817.6C614.8 813 621.1 808.7 627.6 804.5C633.8 800.6 640.2 796.8 646.7 793.3C649.7 791.8 652.6 790.3 655.6 788.8C660.9 786.2 666.4 783.9 671.9 781.7C678.1 779.3 684.4 777.2 690.7 775.5C695.6 774.2 700.5 773.1 705.4 772.2C710.7 771.3 716.1 770.7 721.4 770.4C731.6 769.8 741.9 770.4 752.3 770.9C764.7 771.4 777.2 771.6 789.7 771.8C802.3 771.9 814.9 772 827.5 772.3C829.9 772.4 832.4 772.4 834.8 772.5C845.3 772.8 855.9 773.3 866.4 773.7C872.7 774 879.1 774.2 885.4 774.4C893.8 774.7 902.2 774.9 910.6 775.1C919 775.2 927.4 775.3 935.8 775.4C944.1 775.5 952.5 775.5 960.8 775.5C966.1 775.5 971.4 775.5 976.7 775.5L976.7 1234Z" fill="#000" fill-opacity="0.142"/>
<path d="M55.3 1234L55.3 1196.2C67.7 1195.7 80.1 1195.2 92.6 1194.8C107.6 1194.2 122.7 1193.7 137.7 1193C150.2 1192.5 162.8 1191.8 175.3 1191C187.8 1190.2 200.3 1189.3 212.8 1188.1C223.2 1187.1 233.6 1185.9 244 1184.7C254.4 1183.4 264.8 1182 275.3 1180.7C283.6 1179.6 291.9 1178.5 300.2 1177.4C306.9 1176.6 313.7 1175.7 320.4 1174.9C326.3 1174.2 332.3 1173.5 338.1 1172.6C344.4 1171.6 350.6 1170.4 356.6 1168.6C360.7 1167.3 364.8 1165.8 368.7 1163.9C373.1 1161.8 377.2 1159.4 381.2 1156.5C386.1 1152.9 390.7 1148.7 394.9 1144.1C399.1 1139.5 402.9 1134.5 406.5 1129.2C410.2 1123.8 413.6 1118.2 416.8 1112.6C419.9 1107.1 422.8 1101.6 425.6 1096.1C428.7 1089.9 431.6 1083.6 434.3 1077.4C436.9 1071.6 439.3 1065.8 441.7 1060C448.1 1044.3 454 1028.4 460.1 1012.3C463.5 1003.4 467 994.4 470.5 985.4C473.8 977 477 968.6 480.2 960.2C482.3 954.7 484.3 949.2 486.3 943.7C489.8 934.2 493.1 924.6 496.1 915.1C499.5 904.7 502.5 894.3 505.5 883.9C507.7 876.5 509.9 869.1 512.2 861.8C513.7 856.7 515.3 851.7 517.1 846.6C519.2 840.4 521.4 834.2 523.9 828C525.9 822.9 528.1 817.9 530.4 812.9C532.7 808.1 535.3 803.4 538.1 798.8C540.6 794.7 543.4 790.7 546.5 787C548.7 784.4 551 781.9 553.4 779.6C555.4 777.7 557.6 776 559.8 774.5C561.8 773.2 563.8 772.2 565.8 771.4C567.6 770.8 569.5 770.3 571.4 770.1C573.2 769.9 575.1 770 577 770.2C579.4 770.5 581.8 771.2 584.3 772C587.3 773 590.4 774.3 593.6 775.7C597.9 777.6 602.3 779.6 606.8 781.3C611.8 783.2 616.8 784.5 621.9 785.3C626.4 786.1 630.9 786.5 635.5 786.6C639.2 786.7 642.9 786.6 646.6 786.4C649.5 786.1 652.4 785.8 655.3 785.4C662.7 784.4 670.2 782.9 677.6 781.3C684.3 779.9 691 778.4 697.8 777.3C705.7 775.9 713.6 775 721.6 774.2C729.9 773.4 738.2 772.7 746.5 772.2C755.3 771.6 764 771.1 772.8 770.9C780.7 770.6 788.6 770.5 796.5 770.5C796.8 770.5 797.2 770.5 797.5 770.5C808.4 770.5 819.2 770.7 830 771.2C836.1 771.4 842.1 771.8 848.2 772.2C854.3 772.6 860.3 773 866.4 773.6C872.7 774.1 879 774.8 885.3 775.4C891.6 776 897.8 776.6 904.1 777.1C910.8 777.7 917.5 778.1 924.2 778.3C930 778.5 935.8 778.5 941.7 778.3C947.5 778.1 953.4 777.7 959.2 777.2C965 776.7 970.9 776.1 976.7 775.7L976.7 1234Z" fill="#000612" fill-opacity="0.16"/>
<path d="M139.6 1234L139.6 1194.7C151.5 1194.1 163.4 1193.6 175.3 1193.1C189.1 1192.6 202.8 1192 216.6 1191.4C229.1 1190.8 241.6 1190.2 254.1 1189.3C266.9 1188.5 279.7 1187.5 292.5 1186.2C305.4 1185 318.3 1183.5 331 1181.4C343.8 1179.4 356.5 1176.8 368.8 1173.5C375.2 1171.7 381.5 1169.8 387.7 1167.6C394.3 1165.3 400.8 1162.7 407.3 1159.8C413.7 1157 420.1 1154 425.6 1150.1C427.8 1148.5 429.8 1146.8 431.7 1145C433.9 1142.7 435.9 1140.2 437.7 1137.6C440.5 1133.3 442.8 1128.6 445 1123.9C447.4 1118.6 449.5 1113.2 451.5 1107.7C453.4 1102.3 455.2 1096.9 456.8 1091.5C458.7 1085.2 460.4 1078.9 462 1072.6C463.9 1065.1 465.6 1057.4 467.3 1049.8C470.1 1037.2 472.7 1024.5 475.1 1011.9C476.9 1003 478.5 994.1 480.1 985.2C481.5 977.7 482.8 970.2 484.1 962.7C485.1 956.4 486.2 950.2 487.2 944C489.1 932.4 490.9 920.8 492.8 909.1C494.5 897.9 496.3 886.6 498 875.3C498.7 870.9 499.3 866.5 500 862.1C501.2 854 502.5 845.8 503.8 837.6C505.4 827 507.1 816.4 508.9 805.9C510.7 795.3 512.6 784.8 514.8 774.7C516.2 768.5 517.6 762.4 519.8 756.5C521.4 752.4 523.4 748.3 526 744.4C527.4 742.3 528.9 740.3 530.5 738.9C531.5 738.2 532.4 737.7 533.4 737.5C534.3 737.4 535.3 737.6 536.2 738.1C537.7 739 539.2 740.5 540.6 742.2C542.6 744.6 544.3 747.5 546.1 750.4C548.2 754.1 550.3 758 552.8 761.6C555.3 765.1 558.2 768.4 561.2 770.9C563.5 772.7 566 774.2 568.5 774.9C570.7 775.6 572.9 775.8 575.2 775.7C577.9 775.6 580.7 775.1 583.5 774.7C588 773.9 592.6 773.1 597.2 772.3C603.1 771.4 609.1 770.6 615 770.1C622.2 769.5 629.4 769.4 636.6 769.4C649.5 769.5 662.4 770.2 675.2 769.4C682.3 769 689.5 768.1 696.6 767.2C702.2 766.5 707.9 765.8 713.5 765.2C720.4 764.6 727.2 764.2 734.1 764.1C739.9 764 745.7 764 751.5 764.2C758.1 764.5 764.7 764.9 771.2 765.4C777.3 765.9 783.3 766.4 789.4 767.1C796.2 767.9 803.1 768.7 810 769.1C815.8 769.5 821.6 769.6 827.4 769.1C832 768.7 836.6 768 841.2 767.2C845.5 766.6 849.7 765.9 853.9 765.4C858.1 765 862.2 764.8 866.4 764.9C870.6 765 874.8 765.3 878.9 765.8C883.2 766.3 887.4 767 891.6 767.6C896 768.3 900.4 769 904.8 769.3C908.8 769.5 912.7 769.5 916.7 769.4C920.8 769.2 925 768.9 929.2 768.5C933.7 768.2 938.3 767.8 942.9 767.7C947.1 767.5 951.2 767.6 955.4 767.9C959.1 768.3 962.9 768.9 966.7 769.5C970 770.1 973.4 770.7 976.7 771.3L976.7 1234Z" fill="#6e6f72" fill-opacity="0.16"/>
<path d="M55.3 1190.8C70.3 1189.8 85.2 1188.5 100.1 1187.1C116.7 1185.5 133.3 1183.8 149.9 1182.2C166.6 1180.6 183.3 1179.1 200.2 1178C212.8 1177.1 225.6 1176.4 238.3 1175.5C248.8 1174.6 259.3 1173.6 269.6 1172.1C273.8 1171.5 277.9 1170.9 282 1170C284.9 1169.4 287.8 1168.6 290.7 1167.8C293.8 1167 296.9 1166 300 1164.9C304.2 1163.4 308.3 1161.7 312.4 1159.8C316.6 1157.9 320.7 1155.8 324.8 1153.5C329 1151.1 333.1 1148.5 337.1 1145.8C342.3 1142.3 347.3 1138.4 352.1 1134.4C355.9 1131.2 359.5 1127.9 363 1124.5C367.3 1120.4 371.4 1116.2 375.3 1111.8C379.7 1106.9 383.9 1101.9 387.9 1096.7C392.2 1091.3 396.3 1085.8 400.3 1080.1C404.5 1074.2 408.6 1068.2 412.6 1062.1C415.4 1057.8 418.2 1053.5 421 1049.2C428.9 1036.8 436.5 1024.5 444.2 1012.2C451.1 1001 458 990 465.1 979C472.1 968.3 479.3 957.6 486.8 947.1C492.3 939.5 497.9 932 503.7 924.5C512.2 913.6 521.1 902.9 530.2 892.4C538.3 883 546.7 873.8 555.3 864.9C556.2 863.9 557.1 863 558 862.1C562.4 857.6 566.8 853.2 571.4 848.9C577.4 843.2 583.5 837.7 589.8 832.4C595.9 827.3 602.2 822.3 608.6 817.6C614.8 813 621.1 808.7 627.6 804.5C633.8 800.6 640.2 796.8 646.7 793.3C649.7 791.8 652.6 790.3 655.6 788.8C660.9 786.2 666.4 783.9 671.9 781.7C678.1 779.3 684.4 777.2 690.7 775.5C695.6 774.2 700.5 773.1 705.4 772.2C710.7 771.3 716.1 770.7 721.4 770.4C731.6 769.8 741.9 770.4 752.3 770.9C764.7 771.4 777.2 771.6 789.7 771.8C802.3 771.9 814.9 772 827.5 772.3C829.9 772.4 832.4 772.4 834.8 772.5C845.3 772.8 855.9 773.3 866.4 773.7C872.7 774 879.1 774.2 885.4 774.4C893.8 774.7 902.2 774.9 910.6 775.1C919 775.2 927.4 775.3 935.8 775.4C944.1 775.5 952.5 775.5 960.8 775.5C966.2 775.5 971.6 775.5 976.9 775.5C984 775.5 991 775.5 997.9 775.5" fill="none" stroke="#111" stroke-width="2.4" stroke-linejoin="round"/>
<path d="M55.3 1196.2C67.7 1195.7 80.1 1195.2 92.6 1194.8C107.6 1194.2 122.7 1193.7 137.7 1193C150.2 1192.5 162.8 1191.8 175.3 1191C187.8 1190.2 200.3 1189.3 212.8 1188.1C223.2 1187.1 233.6 1185.9 244 1184.7C254.4 1183.4 264.8 1182 275.3 1180.7C283.6 1179.6 291.9 1178.5 300.2 1177.4C306.9 1176.6 313.7 1175.7 320.4 1174.9C326.3 1174.2 332.3 1173.5 338.1 1172.6C344.4 1171.6 350.6 1170.4 356.6 1168.6C360.7 1167.3 364.8 1165.8 368.7 1163.9C373.1 1161.8 377.2 1159.4 381.2 1156.5C386.1 1152.9 390.7 1148.7 394.9 1144.1C399.1 1139.5 402.9 1134.5 406.5 1129.2C410.2 1123.8 413.6 1118.2 416.8 1112.6C419.9 1107.1 422.8 1101.6 425.6 1096.1C428.7 1089.9 431.6 1083.6 434.3 1077.4C436.9 1071.6 439.3 1065.8 441.7 1060C448.1 1044.3 454 1028.4 460.1 1012.3C463.5 1003.4 467 994.4 470.5 985.4C473.8 977 477 968.6 480.2 960.2C482.3 954.7 484.3 949.2 486.3 943.7C489.8 934.2 493.1 924.6 496.1 915.1C499.5 904.7 502.5 894.3 505.5 883.9C507.7 876.5 509.9 869.1 512.2 861.8C513.7 856.7 515.3 851.7 517.1 846.6C519.2 840.4 521.4 834.2 523.9 828C525.9 822.9 528.1 817.9 530.4 812.9C532.7 808.1 535.3 803.4 538.1 798.8C540.6 794.7 543.4 790.7 546.5 787C548.7 784.4 551 781.9 553.4 779.6C555.4 777.7 557.6 776 559.8 774.5C561.8 773.2 563.8 772.2 565.8 771.4C567.6 770.8 569.5 770.3 571.4 770.1C573.2 769.9 575.1 770 577 770.2C579.4 770.5 581.8 771.2 584.3 772C587.3 773 590.4 774.3 593.6 775.7C597.9 777.6 602.3 779.6 606.8 781.3C611.8 783.2 616.8 784.5 621.9 785.3C626.4 786.1 630.9 786.5 635.5 786.6C639.2 786.7 642.9 786.6 646.6 786.4C649.5 786.1 652.4 785.8 655.3 785.4C662.7 784.4 670.2 782.9 677.6 781.3C684.3 779.9 691 778.4 697.8 777.3C705.7 775.9 713.6 775 721.6 774.2C729.9 773.4 738.2 772.7 746.5 772.2C755.3 771.6 764 771.1 772.8 770.9C780.7 770.6 788.6 770.5 796.5 770.5C796.8 770.5 797.2 770.5 797.5 770.5C808.4 770.5 819.2 770.7 830 771.2C836.1 771.4 842.1 771.8 848.2 772.2C854.3 772.6 860.3 773 866.4 773.6C872.7 774.1 879 774.8 885.3 775.4C891.6 776 897.8 776.6 904.1 777.1C910.8 777.7 917.5 778.1 924.2 778.3C930 778.5 935.8 778.5 941.7 778.3C947.5 778.1 953.4 777.7 959.2 777.2C965 776.7 970.9 776.1 976.7 775.7C983.8 775.2 990.9 774.9 998 775.1" fill="none" stroke="#111" stroke-width="2.3" stroke-dasharray="4.3 3.5" stroke-linejoin="round"/>
<path d="M136.4 1194.8C149.4 1194.2 162.4 1193.6 175.3 1193.1C189.1 1192.6 202.8 1192 216.6 1191.4C229.1 1190.8 241.6 1190.2 254.1 1189.3C266.9 1188.5 279.7 1187.5 292.5 1186.2C305.4 1185 318.3 1183.5 331 1181.4C343.8 1179.4 356.5 1176.8 368.8 1173.5C375.2 1171.7 381.5 1169.8 387.7 1167.6C394.3 1165.3 400.8 1162.7 407.3 1159.8C413.7 1157 420.1 1154 425.6 1150.1C427.8 1148.5 429.8 1146.8 431.7 1145C433.9 1142.7 435.9 1140.2 437.7 1137.6C440.5 1133.3 442.8 1128.6 445 1123.9C447.4 1118.6 449.5 1113.2 451.5 1107.7C453.4 1102.3 455.2 1096.9 456.8 1091.5C458.7 1085.2 460.4 1078.9 462 1072.6C463.9 1065.1 465.6 1057.4 467.3 1049.8C470.1 1037.2 472.7 1024.5 475.1 1011.9C476.9 1003 478.5 994.1 480.1 985.2C481.5 977.7 482.8 970.2 484.1 962.7C485.1 956.4 486.2 950.2 487.2 944C489.1 932.4 490.9 920.8 492.8 909.1C494.5 897.9 496.3 886.6 498 875.3C498.7 870.9 499.3 866.5 500 862.1C501.2 854 502.5 845.8 503.8 837.6C505.4 827 507.1 816.4 508.9 805.9C510.7 795.3 512.6 784.8 514.8 774.7C516.2 768.5 517.6 762.4 519.8 756.5C521.4 752.4 523.4 748.3 526 744.4C527.4 742.3 528.9 740.3 530.5 738.9C531.5 738.2 532.4 737.7 533.4 737.5C534.3 737.4 535.3 737.6 536.2 738.1C537.7 739 539.2 740.5 540.6 742.2C542.6 744.6 544.3 747.5 546.1 750.4C548.2 754.1 550.3 758 552.8 761.6C555.3 765.1 558.2 768.4 561.2 770.9C563.5 772.7 566 774.2 568.5 774.9C570.7 775.6 572.9 775.8 575.2 775.7C577.9 775.6 580.7 775.1 583.5 774.7C588 773.9 592.6 773.1 597.2 772.3C603.1 771.4 609.1 770.6 615 770.1C622.2 769.5 629.4 769.4 636.6 769.4C649.5 769.5 662.4 770.2 675.2 769.4C682.3 769 689.5 768.1 696.6 767.2C702.2 766.5 707.9 765.8 713.5 765.2C720.4 764.6 727.2 764.2 734.1 764.1C739.9 764 745.7 764 751.5 764.2C758.1 764.5 764.7 764.9 771.2 765.4C777.3 765.9 783.3 766.4 789.4 767.1C796.2 767.9 803.1 768.7 810 769.1C815.8 769.5 821.6 769.6 827.4 769.1C832 768.7 836.6 768 841.2 767.2C845.5 766.6 849.7 765.9 853.9 765.4C858.1 765 862.2 764.8 866.4 764.9C870.6 765 874.8 765.3 878.9 765.8C883.2 766.3 887.4 767 891.6 767.6C896 768.3 900.4 769 904.8 769.3C908.8 769.5 912.7 769.5 916.7 769.4C920.8 769.2 925 768.9 929.2 768.5C933.7 768.2 938.3 767.8 942.9 767.7C947.1 767.5 951.2 767.6 955.4 767.9C959.1 768.3 962.9 768.9 966.7 769.5C970 770.1 973.4 770.7 976.7 771.3C981.7 772.1 986.7 772.7 991.7 772.6" fill="none" stroke="#7c7c7c" stroke-width="2.0" stroke-linejoin="round"/>
<path d="M197.1 1176.8H203.9M197.1 1179.1H203.9M348.6 1133H355.4M348.6 1136H355.4M500.2 922H507M500.2 927.3H507M651.7 785.9H658.5M651.7 792.2H658.5M803.3 768.7H810.1M803.3 775.2H810.1M954.9 772.3H961.7M954.9 778.7H961.7" fill="none" stroke="#222" stroke-width="0.9"/>
<path d="M200.5 1176.8V1179.1M352 1133V1136M503.6 922V927.3M655.1 785.9V792.2M806.7 768.7V775.2M958.3 772.3V778.7" fill="none" stroke="#222" stroke-width="1"/>
<path d="M89.4 1193.4H96.2M89.4 1196.1H96.2M165 1190.1H171.8M165 1192.8H171.8M240.5 1183.2H247.3M240.5 1186.1H247.3M316.1 1173.4H322.9M316.1 1176.6H322.9M391.7 1141.8H398.5M391.7 1145.8H398.5M467.3 981.6H474.1M467.3 988.2H474.1M542.9 782.8H549.7M542.9 791.7H549.7M618.5 780.9H625.3M618.5 789.8H625.3M694.1 772.8H700.9M694.1 781.8H700.9M769.7 766.3H776.5M769.7 775.4H776.5M845.2 767.7H852M845.2 776.7H852M920.8 773.8H927.6M920.8 782.8H927.6" fill="none" stroke="#222" stroke-width="0.9"/>
<path d="M92.8 1193.4V1196.1M168.4 1190.1V1192.8M243.9 1183.2V1186.1M319.5 1173.4V1176.6M395.1 1141.8V1145.8M470.7 981.6V988.2M546.3 782.8V791.7M621.9 780.9V789.8M697.5 772.8V781.8M773.1 766.3V775.4M848.6 767.7V776.7M924.2 773.8V782.8" fill="none" stroke="#222" stroke-width="1" stroke-dasharray="4.3 3.5" stroke-dashoffset="4"/>
<path d="M136.2 1192.8H143M136.2 1196.5H143M174.4 1191.1H181.2M174.4 1194.9H181.2M212.7 1189.5H219.5M212.7 1193.4H219.5M250.9 1187.3H257.7M250.9 1191.3H257.7M289.1 1184.2H295.9M289.1 1188.3H295.9M327.3 1179.3H334.1M327.3 1183.6H334.1M365.6 1171.1H372.4M365.6 1175.7H372.4M403.8 1157.3H410.6M403.8 1162.5H410.6M442 1119.7H448.8M442 1126.1H448.8M480.2 960.3H487M480.2 970.1H487M518.5 745.2H525.3M518.5 758.3H525.3M556.7 763.5H563.5M556.7 776.4H563.5M594.9 765.7H601.7M594.9 778.6H601.7M633.1 763H639.9M633.1 775.9H639.9M671.4 763H678.2M671.4 775.9H678.2M709.6 758.8H716.4M709.6 771.8H716.4M747.8 757.7H754.6M747.8 770.7H754.6M786 760.6H792.8M786 773.6H792.8M824.3 762.6H831.1M824.3 775.6H831.1M862.5 758.4H869.3M862.5 771.4H869.3M900.7 762.7H907.5M900.7 775.7H907.5M938.9 761.2H945.7M938.9 774.2H945.7" fill="none" stroke="#808080" stroke-width="0.9"/>
<path d="M139.6 1192.8V1196.5M177.8 1191.1V1194.9M216.1 1189.5V1193.4M254.3 1187.3V1191.3M292.5 1184.2V1188.3M330.7 1179.3V1183.6M369 1171.1V1175.7M407.2 1157.3V1162.5M445.4 1119.7V1126.1M483.6 960.3V970.1M521.9 745.2V758.3M560.1 763.5V776.4M598.3 765.7V778.6M636.5 763V775.9M674.8 763V775.9M713 758.8V771.8M751.2 757.7V770.7M789.4 760.6V773.6M827.7 762.6V775.6M865.9 758.4V771.4M904.1 762.7V775.7M942.3 761.2V774.2" fill="none" stroke="#808080" stroke-width="1"/>
</g>
<rect x="55.3" y="675.8" width="921.4" height="569.5" fill="none" stroke="#b5b5b5" stroke-width="1"/>
<path d="M55.3 1245.3v-3.4M101.4 1245.3v-1.9M147.4 1245.3v-1.9M193.5 1245.3v-1.9M239.6 1245.3v-1.9M285.6 1245.3v-3.4M331.7 1245.3v-1.9M377.8 1245.3v-1.9M423.9 1245.3v-1.9M469.9 1245.3v-1.9M516 1245.3v-3.4M562.1 1245.3v-1.9M608.1 1245.3v-1.9M654.2 1245.3v-1.9M700.3 1245.3v-1.9M746.3 1245.3v-3.4M792.4 1245.3v-1.9M838.5 1245.3v-1.9M884.6 1245.3v-1.9M930.6 1245.3v-1.9M976.7 1245.3v-3.4M55.3 1234h3.4M55.3 1208.3h1.9M55.3 1182.6h1.9M55.3 1156.9h1.9M55.3 1131.2h1.9M55.3 1105.5h3.4M55.3 1079.8h1.9M55.3 1054.1h1.9M55.3 1028.4h1.9M55.3 1002.7h1.9M55.3 977h3.4M55.3 951.3h1.9M55.3 925.6h1.9M55.3 899.9h1.9M55.3 874.2h1.9M55.3 848.5h3.4M55.3 822.8h1.9M55.3 797.1h1.9M55.3 771.4h1.9M55.3 745.7h1.9M55.3 720h3.4M55.3 694.3h1.9" stroke="#8a8a8a" stroke-width="0.8" fill="none"/>
<text x="55.3" y="1266.2" font-size="15.6" text-anchor="middle" fill="#1a1a1a" stroke="#1a1a1a" stroke-width="0.4" textLength="16.2" lengthAdjust="spacingAndGlyphs">10</text>
<text x="285.6" y="1266.2" font-size="15.6" text-anchor="middle" fill="#1a1a1a" stroke="#1a1a1a" stroke-width="0.4" textLength="16.2" lengthAdjust="spacingAndGlyphs">15</text>
<text x="516" y="1266.2" font-size="15.6" text-anchor="middle" fill="#1a1a1a" stroke="#1a1a1a" stroke-width="0.4" textLength="16.2" lengthAdjust="spacingAndGlyphs">20</text>
<text x="746.3" y="1266.2" font-size="15.6" text-anchor="middle" fill="#1a1a1a" stroke="#1a1a1a" stroke-width="0.4" textLength="16.2" lengthAdjust="spacingAndGlyphs">25</text>
<text x="976.7" y="1266.2" font-size="15.6" text-anchor="middle" fill="#1a1a1a" stroke="#1a1a1a" stroke-width="0.4" textLength="16.2" lengthAdjust="spacingAndGlyphs">30</text>
<text x="50.5" y="1239.6" font-size="15.6" text-anchor="end" fill="#1a1a1a" stroke="#1a1a1a" stroke-width="0.4" textLength="8.1" lengthAdjust="spacingAndGlyphs">0</text>
<text x="50.5" y="1111.1" font-size="15.6" text-anchor="end" fill="#1a1a1a" stroke="#1a1a1a" stroke-width="0.4" textLength="16.2" lengthAdjust="spacingAndGlyphs">50</text>
<text x="50.5" y="982.6" font-size="15.6" text-anchor="end" fill="#1a1a1a" stroke="#1a1a1a" stroke-width="0.4" textLength="24.3" lengthAdjust="spacingAndGlyphs">100</text>
<text x="50.5" y="854.1" font-size="15.6" text-anchor="end" fill="#1a1a1a" stroke="#1a1a1a" stroke-width="0.4" textLength="24.3" lengthAdjust="spacingAndGlyphs">150</text>
<text x="50.5" y="725.6" font-size="15.6" text-anchor="end" fill="#1a1a1a" stroke="#1a1a1a" stroke-width="0.4" textLength="24.3" lengthAdjust="spacingAndGlyphs">200</text>
<text x="516" y="1294" font-size="15.5" text-anchor="middle" fill="#1a1a1a" stroke="#1a1a1a" stroke-width="0.4" textLength="82" lengthAdjust="spacingAndGlyphs">z−axis (μm)</text>
<text x="13.6" y="961.2" font-size="16" text-anchor="middle" fill="#1a1a1a" stroke="#1a1a1a" stroke-width="0.4" textLength="300" lengthAdjust="spacingAndGlyphs" transform="rotate(-90 13.6 961.2)">intensity fluorescence sea response (a.u.)</text>
<rect x="137.3" y="741.5" width="204.3" height="96.7" rx="8.5" ry="8.5" fill="#fff" stroke="#1c1c1c" stroke-width="0.9"/>
<path d="M145.6 759H183.7" stroke="#111" stroke-width="2.0" fill="none"/>
<text x="192.7" y="764.4" font-size="15.8" text-anchor="start" fill="#1a1a1a" stroke="#1a1a1a" stroke-width="0.4" textLength="139.6" lengthAdjust="spacingAndGlyphs">63x/1.4 Rho Oil 8AU</text>
<path d="M146.5 789.8H183.7" stroke="#111" stroke-width="2.0" stroke-dasharray="3.9 3.87" fill="none"/>
<text x="192.7" y="795.2" font-size="15.8" text-anchor="start" fill="#1a1a1a" stroke="#1a1a1a" stroke-width="0.4" textLength="139.6" lengthAdjust="spacingAndGlyphs">63x/1.4 Rho Oil 4AU</text>
<path d="M145.6 821.2H183.7" stroke="#7c7c7c" stroke-width="1.9" fill="none"/>
<text x="192.7" y="826.6" font-size="15.8" text-anchor="start" fill="#1a1a1a" stroke="#1a1a1a" stroke-width="0.4" textLength="139.6" lengthAdjust="spacingAndGlyphs">63x/1.4 Rho Oil 2AU</text>
</g>
<g id="panel4">
<clipPath id="c4"><rect x="1064.4" y="668.5" width="929.3" height="574.7"/></clipPath>
<path d="M1683.8 668.5V1243.2M1064.4 1116.5H1993.7M1064.4 1001.1H1993.7M1064.4 885.7H1993.7M1064.4 770.3H1993.7" stroke="#e4e4e4" stroke-width="0.7" fill="none"/>
<g clip-path="url(#c4)">
<path d="M1064.4 1231.9L1064.4 1189.3C1070.3 1189 1076.2 1188.7 1082.1 1188.4C1091.5 1188 1101 1187.6 1110.4 1187.2C1118.3 1186.9 1126.3 1186.6 1134.2 1186.3C1142.9 1185.9 1151.6 1185.5 1160.3 1185.1C1168.7 1184.6 1176.9 1184.2 1185.2 1183.6C1193.5 1183 1201.8 1182.4 1210.1 1181.7C1218.8 1180.9 1227.6 1180 1236.3 1178.9C1244.2 1177.9 1252.1 1176.8 1260 1175.6C1269.2 1174.2 1278.4 1172.5 1287.7 1170.6C1299.1 1168.2 1310.5 1165.5 1322 1162.3C1328.5 1160.5 1335 1158.5 1341.4 1156.4C1348.2 1154.1 1354.8 1151.7 1360.9 1149.1C1364.1 1147.7 1367.1 1146.3 1370 1144.5C1372 1143.2 1373.9 1141.6 1375.8 1139.9C1378.1 1137.7 1380.4 1135.3 1382.4 1132.7C1384.3 1130.4 1386 1127.9 1387.7 1125.4C1389 1123.4 1390.2 1121.3 1391.4 1119.2C1393.2 1115.9 1394.9 1112.5 1396.4 1109.1C1398.1 1105.4 1399.7 1101.5 1401.3 1097.7C1403 1093.5 1404.6 1089.3 1406.2 1085.1C1408.1 1080.1 1409.8 1075.1 1411.6 1070.1C1413.4 1064.7 1415.2 1059.3 1416.9 1053.8C1418.6 1048.4 1420.2 1043 1421.8 1037.5C1423.6 1031.3 1425.4 1025.1 1427 1018.8C1427.7 1016.5 1428.3 1014.2 1428.9 1011.9C1430.2 1006.8 1431.5 1001.7 1432.8 996.6C1434.1 991.6 1435.3 986.6 1436.5 981.6C1437.6 977 1438.7 972.4 1439.8 967.8C1441.1 962 1442.5 956.1 1443.8 950.3C1445.2 944.5 1446.5 938.6 1447.8 932.8C1449 927.3 1450.3 921.9 1451.5 916.4C1452.7 911 1453.9 905.5 1455 900C1456.2 894.6 1457.4 889.1 1458.6 883.6C1459.6 878.6 1460.7 873.6 1461.7 868.6C1462.2 866.3 1462.7 864.1 1463.2 861.8C1465.3 851.7 1467.4 841.6 1469.4 831.5C1471.1 823.2 1472.8 815 1474.4 806.7C1475.8 799.7 1477.2 792.6 1478.9 785.6C1480.2 779.7 1481.7 773.8 1483.4 767.8C1484.9 762.6 1486.6 757.4 1488.5 752.1C1490.1 748 1491.8 743.9 1494 740.4C1495.5 737.9 1497.3 735.8 1499.5 734.3C1501 733.2 1502.7 732.3 1504.5 731.8C1506 731.4 1507.5 731.2 1509 731.2C1510.6 731.2 1512.1 731.6 1513.5 732.2C1515.3 733 1516.9 734.4 1518.5 736C1520.5 738.3 1522.5 741.2 1524.5 744C1527 747.3 1529.7 750.5 1532.6 753.4C1535.1 756 1537.8 758.4 1540.7 760.5C1543.2 762.4 1545.8 764.1 1548.6 765.4C1550.9 766.5 1553.4 767.4 1555.9 768.1C1558.6 768.8 1561.4 769.2 1564.2 769.2C1566.9 769.3 1569.8 769 1572.6 768.6C1575.9 768.1 1579.2 767.4 1582.5 766.9C1587.1 766.2 1591.7 765.7 1596.3 765.3C1602.1 764.9 1608 764.6 1613.9 764.4C1615.9 764.4 1617.8 764.3 1619.8 764.2C1629 764 1638.2 763.7 1647.5 763.5C1657.1 763.3 1666.7 763.1 1676.4 762.9C1683.9 762.7 1691.4 762.5 1698.9 762.2C1706.1 762 1713.2 761.7 1720.3 761.3C1730.4 760.8 1740.5 760.2 1750.6 759.6C1759.5 759.1 1768.5 758.6 1777.5 758.2C1785.8 757.8 1794.1 757.6 1802.5 757.6C1810.8 757.6 1819.1 757.8 1827.5 758.3C1836.2 758.8 1845 759.7 1853.8 760.5C1861.7 761.3 1869.6 762.1 1877.5 762.5C1886.7 763.1 1895.8 763.3 1905 762.7C1912.5 762.2 1920 761.2 1927.5 760.3C1933.8 759.5 1940 758.8 1946.3 758.5C1949.6 758.3 1953 758.2 1956.3 758.2C1961.3 758.3 1966.3 758.5 1971.3 759C1978.7 759.6 1986.2 760.6 1993.7 761.8L1993.7 1231.9Z" fill="#000208" fill-opacity="0.147"/>
<path d="M1064.4 1231.9L1064.4 1177.3C1075.3 1176.1 1086.3 1174.9 1097.4 1173.6C1109.9 1172 1122.4 1170.3 1134.9 1168.3C1143.3 1166.9 1151.7 1165.4 1160 1163.8C1168.5 1162.1 1176.9 1160.2 1185.2 1158.2C1188.4 1157.4 1191.5 1156.6 1194.7 1155.8C1200 1154.4 1205.2 1152.9 1210.4 1151.3C1218.9 1148.8 1227.3 1146 1235.5 1142.9C1244 1139.7 1252.3 1136.3 1260.5 1132.5C1266.6 1129.7 1272.7 1126.8 1278.7 1123.6C1285.2 1120.2 1291.6 1116.7 1297.8 1112.9C1304.3 1109.1 1310.6 1105 1316.8 1100.7C1323 1096.5 1329.1 1092 1335 1087.4C1338 1085.1 1340.9 1082.7 1343.8 1080.2C1349.5 1075.5 1355.1 1070.5 1360.5 1065.4C1364.7 1061.3 1368.9 1057.1 1373 1052.9C1377.2 1048.4 1381.4 1043.9 1385.5 1039.3C1389.6 1034.7 1393.7 1030.1 1397.7 1025.4C1401.7 1020.8 1405.7 1016.2 1409.6 1011.6C1409.8 1011.4 1409.9 1011.2 1410.1 1011C1414.2 1006.2 1418.3 1001.4 1422.4 996.5C1426.7 991.3 1430.9 986 1435.2 980.7C1439.5 975.4 1443.8 970.3 1448.1 965.2C1452.3 960.3 1456.5 955.6 1460.7 950.9C1464.8 946.3 1469 941.7 1473.2 937.2C1477.3 932.8 1481.4 928.5 1485.5 924.1C1488.6 921 1491.6 917.8 1494.7 914.7C1499.8 909.4 1504.9 904.2 1510.2 899C1514.2 895 1518.3 890.9 1522.4 886.9C1526.5 882.8 1530.7 878.7 1534.8 874.7C1538.9 870.7 1543 866.8 1547 862.9C1550.9 859.3 1554.7 855.7 1558.5 852.1C1562.6 848.4 1566.6 844.7 1570.7 841.2C1574.8 837.7 1578.9 834.2 1583 830.9C1587.1 827.7 1591.2 824.6 1595.5 821.6C1599.6 818.7 1603.8 816 1608.1 813.4C1611.7 811.3 1615.4 809.2 1619.2 807.3C1623.4 805 1627.7 802.9 1632.1 800.8C1636.1 798.8 1640.2 796.8 1644.3 794.8C1648.7 792.8 1653.2 790.8 1657.6 788.9C1661.9 787.2 1666.1 785.5 1670.4 784C1674.6 782.5 1678.8 781.2 1683 780C1687.2 778.7 1691.4 777.7 1695.6 776.7C1699.7 775.8 1703.8 775 1708 774.3C1712.1 773.6 1716.2 773 1720.3 772.5C1724.4 771.9 1728.5 771.5 1732.7 771C1738.4 770.4 1744.2 769.9 1750 769.3C1756.9 768.7 1763.8 768 1770.7 767.3C1778.4 766.6 1786.1 765.8 1793.9 765C1807 763.7 1820.2 762.5 1833.5 761.4C1840.2 760.8 1846.9 760.3 1853.6 759.8C1863.7 759 1873.8 758.4 1883.8 757.8C1892.2 757.3 1900.6 756.9 1909 756.5C1920.7 756 1932.5 755.6 1944.2 755.3C1953.4 755.1 1962.5 754.9 1971.7 754.8C1979 754.8 1986.4 754.7 1993.7 754.8L1993.7 1231.9Z" fill="#000208" fill-opacity="0.147"/>
<path d="M1064.4 1189.3C1070.3 1189 1076.2 1188.7 1082.1 1188.4C1091.5 1188 1101 1187.6 1110.4 1187.2C1118.3 1186.9 1126.3 1186.6 1134.2 1186.3C1142.9 1185.9 1151.6 1185.5 1160.3 1185.1C1168.7 1184.6 1176.9 1184.2 1185.2 1183.6C1193.5 1183 1201.8 1182.4 1210.1 1181.7C1218.8 1180.9 1227.6 1180 1236.3 1178.9C1244.2 1177.9 1252.1 1176.8 1260 1175.6C1269.2 1174.2 1278.4 1172.5 1287.7 1170.6C1299.1 1168.2 1310.5 1165.5 1322 1162.3C1328.5 1160.5 1335 1158.5 1341.4 1156.4C1348.2 1154.1 1354.8 1151.7 1360.9 1149.1C1364.1 1147.7 1367.1 1146.3 1370 1144.5C1372 1143.2 1373.9 1141.6 1375.8 1139.9C1378.1 1137.7 1380.4 1135.3 1382.4 1132.7C1384.3 1130.4 1386 1127.9 1387.7 1125.4C1389 1123.4 1390.2 1121.3 1391.4 1119.2C1393.2 1115.9 1394.9 1112.5 1396.4 1109.1C1398.1 1105.4 1399.7 1101.5 1401.3 1097.7C1403 1093.5 1404.6 1089.3 1406.2 1085.1C1408.1 1080.1 1409.8 1075.1 1411.6 1070.1C1413.4 1064.7 1415.2 1059.3 1416.9 1053.8C1418.6 1048.4 1420.2 1043 1421.8 1037.5C1423.6 1031.3 1425.4 1025.1 1427 1018.8C1427.7 1016.5 1428.3 1014.2 1428.9 1011.9C1430.2 1006.8 1431.5 1001.7 1432.8 996.6C1434.1 991.6 1435.3 986.6 1436.5 981.6C1437.6 977 1438.7 972.4 1439.8 967.8C1441.1 962 1442.5 956.1 1443.8 950.3C1445.2 944.5 1446.5 938.6 1447.8 932.8C1449 927.3 1450.3 921.9 1451.5 916.4C1452.7 911 1453.9 905.5 1455 900C1456.2 894.6 1457.4 889.1 1458.6 883.6C1459.6 878.6 1460.7 873.6 1461.7 868.6C1462.2 866.3 1462.7 864.1 1463.2 861.8C1465.3 851.7 1467.4 841.6 1469.4 831.5C1471.1 823.2 1472.8 815 1474.4 806.7C1475.8 799.7 1477.2 792.6 1478.9 785.6C1480.2 779.7 1481.7 773.8 1483.4 767.8C1484.9 762.6 1486.6 757.4 1488.5 752.1C1490.1 748 1491.8 743.9 1494 740.4C1495.5 737.9 1497.3 735.8 1499.5 734.3C1501 733.2 1502.7 732.3 1504.5 731.8C1506 731.4 1507.5 731.2 1509 731.2C1510.6 731.2 1512.1 731.6 1513.5 732.2C1515.3 733 1516.9 734.4 1518.5 736C1520.5 738.3 1522.5 741.2 1524.5 744C1527 747.3 1529.7 750.5 1532.6 753.4C1535.1 756 1537.8 758.4 1540.7 760.5C1543.2 762.4 1545.8 764.1 1548.6 765.4C1550.9 766.5 1553.4 767.4 1555.9 768.1C1558.6 768.8 1561.4 769.2 1564.2 769.2C1566.9 769.3 1569.8 769 1572.6 768.6C1575.9 768.1 1579.2 767.4 1582.5 766.9C1587.1 766.2 1591.7 765.7 1596.3 765.3C1602.1 764.9 1608 764.6 1613.9 764.4C1615.9 764.4 1617.8 764.3 1619.8 764.2C1629 764 1638.2 763.7 1647.5 763.5C1657.1 763.3 1666.7 763.1 1676.4 762.9C1683.9 762.7 1691.4 762.5 1698.9 762.2C1706.1 762 1713.2 761.7 1720.3 761.3C1730.4 760.8 1740.5 760.2 1750.6 759.6C1759.5 759.1 1768.5 758.6 1777.5 758.2C1785.8 757.8 1794.1 757.6 1802.5 757.6C1810.8 757.6 1819.1 757.8 1827.5 758.3C1836.2 758.8 1845 759.7 1853.8 760.5C1861.7 761.3 1869.6 762.1 1877.5 762.5C1886.7 763.1 1895.8 763.3 1905 762.7C1912.5 762.2 1920 761.2 1927.5 760.3C1933.8 759.5 1940 758.8 1946.3 758.5C1949.6 758.3 1953 758.2 1956.3 758.2C1961.3 758.3 1966.3 758.5 1971.3 759C1978.7 759.6 1986.2 760.6 1993.7 761.8C1998.8 762.6 2003.9 763.5 2009.1 764.5" fill="none" stroke="#111" stroke-width="2.3" stroke-dasharray="4.3 3.4" stroke-linejoin="round"/>
<path d="M1064.4 1177.3C1075.3 1176.1 1086.3 1174.9 1097.4 1173.6C1109.9 1172 1122.4 1170.3 1134.9 1168.3C1143.3 1166.9 1151.7 1165.4 1160 1163.8C1168.5 1162.1 1176.9 1160.2 1185.2 1158.2C1188.4 1157.4 1191.5 1156.6 1194.7 1155.8C1200 1154.4 1205.2 1152.9 1210.4 1151.3C1218.9 1148.8 1227.3 1146 1235.5 1142.9C1244 1139.7 1252.3 1136.3 1260.5 1132.5C1266.6 1129.7 1272.7 1126.8 1278.7 1123.6C1285.2 1120.2 1291.6 1116.7 1297.8 1112.9C1304.3 1109.1 1310.6 1105 1316.8 1100.7C1323 1096.5 1329.1 1092 1335 1087.4C1338 1085.1 1340.9 1082.7 1343.8 1080.2C1349.5 1075.5 1355.1 1070.5 1360.5 1065.4C1364.7 1061.3 1368.9 1057.1 1373 1052.9C1377.2 1048.4 1381.4 1043.9 1385.5 1039.3C1389.6 1034.7 1393.7 1030.1 1397.7 1025.4C1401.7 1020.8 1405.7 1016.2 1409.6 1011.6C1409.8 1011.4 1409.9 1011.2 1410.1 1011C1414.2 1006.2 1418.3 1001.4 1422.4 996.5C1426.7 991.3 1430.9 986 1435.2 980.7C1439.5 975.4 1443.8 970.3 1448.1 965.2C1452.3 960.3 1456.5 955.6 1460.7 950.9C1464.8 946.3 1469 941.7 1473.2 937.2C1477.3 932.8 1481.4 928.5 1485.5 924.1C1488.6 921 1491.6 917.8 1494.7 914.7C1499.8 909.4 1504.9 904.2 1510.2 899C1514.2 895 1518.3 890.9 1522.4 886.9C1526.5 882.8 1530.7 878.7 1534.8 874.7C1538.9 870.7 1543 866.8 1547 862.9C1550.9 859.3 1554.7 855.7 1558.5 852.1C1562.6 848.4 1566.6 844.7 1570.7 841.2C1574.8 837.7 1578.9 834.2 1583 830.9C1587.1 827.7 1591.2 824.6 1595.5 821.6C1599.6 818.7 1603.8 816 1608.1 813.4C1611.7 811.3 1615.4 809.2 1619.2 807.3C1623.4 805 1627.7 802.9 1632.1 800.8C1636.1 798.8 1640.2 796.8 1644.3 794.8C1648.7 792.8 1653.2 790.8 1657.6 788.9C1661.9 787.2 1666.1 785.5 1670.4 784C1674.6 782.5 1678.8 781.2 1683 780C1687.2 778.7 1691.4 777.7 1695.6 776.7C1699.7 775.8 1703.8 775 1708 774.3C1712.1 773.6 1716.2 773 1720.3 772.5C1724.4 771.9 1728.5 771.5 1732.7 771C1738.4 770.4 1744.2 769.9 1750 769.3C1756.9 768.7 1763.8 768 1770.7 767.3C1778.4 766.6 1786.1 765.8 1793.9 765C1807 763.7 1820.2 762.5 1833.5 761.4C1840.2 760.8 1846.9 760.3 1853.6 759.8C1863.7 759 1873.8 758.4 1883.8 757.8C1892.2 757.3 1900.6 756.9 1909 756.5C1920.7 756 1932.5 755.6 1944.2 755.3C1953.4 755.1 1962.5 754.9 1971.7 754.8C1979.1 754.8 1986.5 754.7 1993.9 754.8C1998.9 754.8 2004 754.8 2009 754.9" fill="none" stroke="#111" stroke-width="2.3" stroke-linejoin="round"/>
<path d="M1079.1 1186.2H1085.9M1079.1 1190.7H1085.9M1130.5 1184H1137.3M1130.5 1188.6H1137.3M1181.9 1181.2H1188.7M1181.9 1186H1188.7M1233.2 1176.4H1240M1233.2 1181.3H1240M1284.6 1167.9H1291.4M1284.6 1173.2H1291.4M1336 1154.1H1342.8M1336 1160H1342.8M1387.4 1116.7H1394.2M1387.4 1123.9H1394.2M1438.7 952H1445.5M1438.7 963.3H1445.5M1490.1 733.6H1496.9M1490.1 748.7H1496.9M1541.5 756H1548.3M1541.5 770.7H1548.3M1592.9 758H1599.7M1592.9 772.7H1599.7M1644.2 756.2H1651M1644.2 770.9H1651M1695.6 754.8H1702.4M1695.6 769.6H1702.4M1747 752.2H1753.8M1747 767H1753.8M1798.4 750.2H1805.2M1798.4 765H1805.2M1849.7 753.1H1856.5M1849.7 767.9H1856.5M1901.1 755.4H1907.9M1901.1 770.1H1907.9M1952.5 750.8H1959.3M1952.5 765.6H1959.3" fill="none" stroke="#222" stroke-width="0.9"/>
<path d="M1082.5 1186.2V1190.7M1133.9 1184V1188.6M1185.3 1181.2V1186M1236.6 1176.4V1181.3M1288 1167.9V1173.2M1339.4 1154.1V1160M1390.8 1116.7V1123.9M1442.1 952V963.3M1493.5 733.6V748.7M1544.9 756V770.7M1596.3 758V772.7M1647.6 756.2V770.9M1699 754.8V769.6M1750.4 752.2V767M1801.8 750.2V765M1853.1 753.1V767.9M1904.5 755.4V770.1M1955.9 750.8V765.6" fill="none" stroke="#222" stroke-width="1" stroke-dasharray="4.3 3.4" stroke-dashoffset="4"/>
<path d="M1190.8 1154.4H1197.6M1190.8 1157.4H1197.6M1340.7 1077.9H1347.5M1340.7 1082.1H1347.5M1490.7 912.3H1497.5M1490.7 918.3H1497.5M1640.6 791.4H1647.4M1640.6 798.5H1647.4M1790.6 761.3H1797.4M1790.6 768.7H1797.4M1940.5 751.6H1947.3M1940.5 759H1947.3" fill="none" stroke="#222" stroke-width="0.9"/>
<path d="M1194.2 1154.4V1157.4M1344.1 1077.9V1082.1M1494.1 912.3V918.3M1644 791.4V798.5M1794 761.3V768.7M1943.9 751.6V759" fill="none" stroke="#222" stroke-width="1"/>
</g>
<rect x="1064.4" y="668.5" width="929.3" height="574.7" fill="none" stroke="#b5b5b5" stroke-width="1"/>
<path d="M1064.4 1243.2v-3.4M1095.4 1243.2v-1.9M1126.3 1243.2v-1.9M1157.3 1243.2v-1.9M1188.3 1243.2v-3.4M1219.2 1243.2v-1.9M1250.2 1243.2v-1.9M1281.2 1243.2v-1.9M1312.2 1243.2v-3.4M1343.1 1243.2v-1.9M1374.1 1243.2v-1.9M1405.1 1243.2v-1.9M1436 1243.2v-3.4M1467 1243.2v-1.9M1498 1243.2v-1.9M1529 1243.2v-1.9M1559.9 1243.2v-3.4M1590.9 1243.2v-1.9M1621.9 1243.2v-1.9M1652.8 1243.2v-1.9M1683.8 1243.2v-3.4M1714.8 1243.2v-1.9M1745.7 1243.2v-1.9M1776.7 1243.2v-1.9M1807.7 1243.2v-3.4M1838.7 1243.2v-1.9M1869.6 1243.2v-1.9M1900.6 1243.2v-1.9M1931.6 1243.2v-3.4M1962.5 1243.2v-1.9M1993.5 1243.2v-1.9M1064.4 1231.9h3.4M1064.4 1208.8h1.9M1064.4 1185.7h1.9M1064.4 1162.7h1.9M1064.4 1139.6h1.9M1064.4 1116.5h3.4M1064.4 1093.4h1.9M1064.4 1070.3h1.9M1064.4 1047.3h1.9M1064.4 1024.2h1.9M1064.4 1001.1h3.4M1064.4 978h1.9M1064.4 954.9h1.9M1064.4 931.9h1.9M1064.4 908.8h1.9M1064.4 885.7h3.4M1064.4 862.6h1.9M1064.4 839.5h1.9M1064.4 816.5h1.9M1064.4 793.4h1.9M1064.4 770.3h3.4M1064.4 747.2h1.9M1064.4 724.1h1.9M1064.4 701.1h1.9M1064.4 678h1.9" stroke="#8a8a8a" stroke-width="0.8" fill="none"/>
<text x="1064.4" y="1263.5" font-size="15.6" text-anchor="middle" fill="#1a1a1a" stroke="#1a1a1a" stroke-width="0.4" textLength="16.2" lengthAdjust="spacingAndGlyphs">10</text>
<text x="1188.3" y="1263.5" font-size="15.6" text-anchor="middle" fill="#1a1a1a" stroke="#1a1a1a" stroke-width="0.4" textLength="16.2" lengthAdjust="spacingAndGlyphs">12</text>
<text x="1312.2" y="1263.5" font-size="15.6" text-anchor="middle" fill="#1a1a1a" stroke="#1a1a1a" stroke-width="0.4" textLength="16.2" lengthAdjust="spacingAndGlyphs">14</text>
<text x="1436" y="1263.5" font-size="15.6" text-anchor="middle" fill="#1a1a1a" stroke="#1a1a1a" stroke-width="0.4" textLength="16.2" lengthAdjust="spacingAndGlyphs">16</text>
<text x="1559.9" y="1263.5" font-size="15.6" text-anchor="middle" fill="#1a1a1a" stroke="#1a1a1a" stroke-width="0.4" textLength="16.2" lengthAdjust="spacingAndGlyphs">18</text>
<text x="1683.8" y="1263.5" font-size="15.6" text-anchor="middle" fill="#1a1a1a" stroke="#1a1a1a" stroke-width="0.4" textLength="16.2" lengthAdjust="spacingAndGlyphs">20</text>
<text x="1807.7" y="1263.5" font-size="15.6" text-anchor="middle" fill="#1a1a1a" stroke="#1a1a1a" stroke-width="0.4" textLength="16.2" lengthAdjust="spacingAndGlyphs">22</text>
<text x="1931.6" y="1263.5" font-size="15.6" text-anchor="middle" fill="#1a1a1a" stroke="#1a1a1a" stroke-width="0.4" textLength="16.2" lengthAdjust="spacingAndGlyphs">24</text>
<text x="1059.6" y="1237.5" font-size="15.6" text-anchor="end" fill="#1a1a1a" stroke="#1a1a1a" stroke-width="0.4" textLength="8.1" lengthAdjust="spacingAndGlyphs">0</text>
<text x="1059.6" y="1122.1" font-size="15.6" text-anchor="end" fill="#1a1a1a" stroke="#1a1a1a" stroke-width="0.4" textLength="16.2" lengthAdjust="spacingAndGlyphs">50</text>
<text x="1059.6" y="1006.7" font-size="15.6" text-anchor="end" fill="#1a1a1a" stroke="#1a1a1a" stroke-width="0.4" textLength="24.3" lengthAdjust="spacingAndGlyphs">100</text>
<text x="1059.6" y="891.3" font-size="15.6" text-anchor="end" fill="#1a1a1a" stroke="#1a1a1a" stroke-width="0.4" textLength="24.3" lengthAdjust="spacingAndGlyphs">150</text>
<text x="1059.6" y="775.9" font-size="15.6" text-anchor="end" fill="#1a1a1a" stroke="#1a1a1a" stroke-width="0.4" textLength="24.3" lengthAdjust="spacingAndGlyphs">200</text>
<text x="1528.9" y="1291.4" font-size="15.5" text-anchor="middle" fill="#1a1a1a" stroke="#1a1a1a" stroke-width="0.4" textLength="82" lengthAdjust="spacingAndGlyphs">z−axis (μm)</text>
<text x="1023.8" y="957" font-size="16" text-anchor="middle" fill="#1a1a1a" stroke="#1a1a1a" stroke-width="0.4" textLength="300" lengthAdjust="spacingAndGlyphs" transform="rotate(-90 1023.8 957)">intensity fluorescence sea response (a.u.)</text>
<rect x="1147.6" y="750.5" width="204.5" height="65.9" rx="8.5" ry="8.5" fill="#fff" stroke="#1c1c1c" stroke-width="0.9"/>
<path d="M1156 768H1194" stroke="#111" stroke-width="2.2" fill="none"/>
<text x="1203.2" y="773.4" font-size="15.8" text-anchor="start" fill="#1a1a1a" stroke="#1a1a1a" stroke-width="0.4" textLength="139.6" lengthAdjust="spacingAndGlyphs">25x/0.8 Rho Oil 2AU</text>
<path d="M1156.9 799.4H1194" stroke="#111" stroke-width="2.2" stroke-dasharray="3.9 3.87" fill="none"/>
<text x="1203.2" y="804.8" font-size="15.8" text-anchor="start" fill="#1a1a1a" stroke="#1a1a1a" stroke-width="0.4" textLength="139.6" lengthAdjust="spacingAndGlyphs">63x/1.4 Rho Oil 2AU</text>
</g>
</svg>
</body></html>
